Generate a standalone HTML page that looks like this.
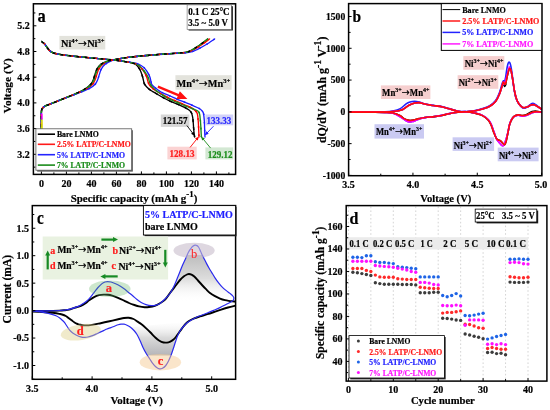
<!DOCTYPE html><html><head><meta charset="utf-8"><style>html,body{margin:0;padding:0;background:#fff;}svg{display:block;font-family:"Liberation Serif",serif;}</style></head><body>
<svg width="550" height="410" viewBox="0 0 550 410">
<defs><clipPath id="clipA"><rect x="33.4" y="3.8" width="202.2" height="170.6"/></clipPath><clipPath id="clipB"><rect x="348.6" y="3.6" width="193.2" height="171.8"/></clipPath><clipPath id="clipC"><rect x="32.3" y="205.6" width="203.3" height="173.7"/></clipPath></defs>
<rect x="0" y="0" width="550" height="410" fill="#ffffff" stroke="none" stroke-width="1" />
<g clip-path="url(#clipA)">
<path d="M41.4,135.03 C41.4,132.88 41.4,126.03 41.4,122.17 C41.4,118.32 41.27,114.14 41.4,111.9 C41.52,109.65 41.63,109.59 42.15,108.68 C42.67,107.77 43.11,107.24 44.52,106.43 C45.94,105.63 47.36,105.2 50.65,103.86 C53.94,102.53 59.71,100.28 64.28,98.4 C68.84,96.53 74.44,94.28 78.03,92.62 C81.61,90.96 83.65,89.84 85.78,88.44 C87.9,87.05 89.53,85.71 90.78,84.27 C92.03,82.82 92.59,81.38 93.28,79.77 C93.96,78.16 94.28,76.45 94.9,74.63 C95.53,72.81 96.05,70.56 97.03,68.85 C98,67.13 99,65.64 100.78,64.35 C102.55,63.07 104.94,61.99 107.65,61.14 C110.36,60.28 113.3,59.87 117.03,59.21 C120.75,58.55 124.61,57.82 130.03,57.15 C135.44,56.49 143.05,55.79 149.53,55.23 C156,54.66 163.59,54.14 168.9,53.75 C174.21,53.35 178.28,53.15 181.4,52.85 C184.53,52.55 185.78,52.5 187.65,51.95 C189.53,51.4 190.57,50.77 192.65,49.57 C194.73,48.37 197.65,46.52 200.15,44.75 C202.65,42.99 206.4,39.94 207.65,38.97" fill="none" stroke="#000000" stroke-width="1.35" stroke-linejoin="round" stroke-linecap="round" />
<path d="M41.65,41.54 C42.17,41.97 43.77,42.99 44.77,44.11 C45.77,45.24 46.5,46.95 47.65,48.29 C48.8,49.63 49.86,51.16 51.65,52.14 C53.44,53.13 54.69,53.51 58.4,54.2 C62.11,54.88 68.03,55.59 73.9,56.25 C79.78,56.92 87.82,57.63 93.65,58.18 C99.48,58.74 104.48,59.16 108.9,59.6 C113.32,60.03 116.13,60.22 120.15,60.82 C124.17,61.42 130.16,62.37 133,63.2 C135.84,64.03 136,64.62 137.2,65.8 C138.4,66.98 139.42,68.83 140.2,70.3 C140.98,71.77 141.45,73.32 141.9,74.6 C142.35,75.88 142.48,76.45 142.9,78 C143.32,79.55 143.67,82.32 144.4,83.9 C145.13,85.48 146.28,86.45 147.3,87.5 C148.32,88.55 149.28,89.35 150.5,90.2 C151.72,91.05 152.68,91.47 154.6,92.6 C156.52,93.73 159.43,95.58 162,97 C164.57,98.42 167.45,99.92 170,101.1 C172.55,102.28 174.87,103.05 177.3,104.1 C179.73,105.15 182.65,106.42 184.6,107.4 C186.55,108.38 187.85,109.07 189,110 C190.15,110.93 190.88,111.73 191.5,113 C192.12,114.27 192.42,116.1 192.7,117.6 C192.98,119.1 193.05,120.27 193.2,122 C193.35,123.73 193.43,126 193.6,128 C193.77,130 194.03,132.5 194.2,134 C194.37,135.5 194.53,136.5 194.6,137" fill="none" stroke="#000000" stroke-width="1.35" stroke-linejoin="round" stroke-linecap="round" />
<path d="M41.4,135.03 C41.4,132.88 41.4,126.03 41.4,122.17 C41.4,118.32 41.27,114.14 41.4,111.9 C41.52,109.65 41.63,109.59 42.15,108.68 C42.67,107.77 43.11,107.24 44.52,106.43 C45.94,105.63 47.36,105.2 50.65,103.86 C53.94,102.53 59.6,100.28 64.28,98.4 C68.95,96.53 74.84,94.28 78.7,92.62 C82.55,90.96 85.09,89.84 87.42,88.44 C89.74,87.05 91.36,85.71 92.65,84.27 C93.94,82.82 94.46,81.38 95.15,79.77 C95.84,78.16 96.15,76.45 96.78,74.63 C97.4,72.81 97.92,70.56 98.9,68.85 C99.88,67.13 100.97,65.64 102.65,64.35 C104.33,63.07 106.57,61.99 108.96,61.14 C111.36,60.28 113.51,59.87 117.03,59.21 C120.54,58.55 124.61,57.82 130.03,57.15 C135.44,56.49 143.03,55.79 149.53,55.23 C156.02,54.66 163.59,54.14 169.02,53.75 C174.44,53.35 178.82,53.15 182.09,52.85 C185.36,52.55 186.67,52.5 188.63,51.95 C190.59,51.4 191.68,50.77 193.86,49.57 C196.04,48.37 199.09,46.52 201.71,44.75 C204.32,42.99 208.25,39.94 209.55,38.97" fill="none" stroke="#ff0000" stroke-width="1.35" stroke-linejoin="round" stroke-linecap="round" />
<path d="M41.65,41.54 C42.17,41.97 43.77,42.99 44.77,44.11 C45.77,45.24 46.5,46.95 47.65,48.29 C48.8,49.63 49.86,51.16 51.65,52.14 C53.44,53.13 54.69,53.51 58.4,54.2 C62.11,54.88 68.03,55.59 73.9,56.25 C79.78,56.92 87.82,57.63 93.65,58.18 C99.48,58.74 104.48,59.16 108.9,59.6 C113.32,60.03 116.13,60.25 120.15,60.82 C124.17,61.38 130.03,62.3 133,63 C135.97,63.7 136.42,63.92 138,65 C139.58,66.08 141.28,68 142.5,69.5 C143.72,71 144.55,72.58 145.3,74 C146.05,75.42 146.45,76.42 147,78 C147.55,79.58 147.93,82 148.6,83.5 C149.27,85 149.93,85.88 151,87 C152.07,88.12 153.17,88.98 155,90.2 C156.83,91.42 159.5,92.9 162,94.3 C164.5,95.7 167.45,97.4 170,98.6 C172.55,99.8 174.87,100.47 177.3,101.5 C179.73,102.53 182.15,103.7 184.6,104.8 C187.05,105.9 190.17,107.07 192,108.1 C193.83,109.13 194.7,110.02 195.6,111 C196.5,111.98 196.95,112.17 197.4,114 C197.85,115.83 198.1,119.67 198.3,122 C198.5,124.33 198.5,126 198.6,128 C198.7,130 198.83,132.5 198.9,134 C198.97,135.5 198.98,136.5 199,137" fill="none" stroke="#ff0000" stroke-width="1.35" stroke-linejoin="round" stroke-linecap="round" />
<path d="M41.4,135.03 C41.4,132.88 41.4,126.03 41.4,122.17 C41.4,118.32 41.27,114.14 41.4,111.9 C41.52,109.65 41.63,109.59 42.15,108.68 C42.67,107.77 43.11,107.24 44.52,106.43 C45.94,105.63 47.36,105.2 50.65,103.86 C53.94,102.53 59.45,100.28 64.28,98.4 C69.1,96.53 75.37,94.28 79.59,92.62 C83.81,90.96 87.01,89.84 89.6,88.44 C92.2,87.05 93.81,85.71 95.15,84.27 C96.49,82.82 96.96,81.38 97.65,79.77 C98.34,78.16 98.65,76.45 99.28,74.63 C99.9,72.81 100.42,70.56 101.4,68.85 C102.38,67.13 103.6,65.64 105.15,64.35 C106.7,63.07 108.73,61.99 110.71,61.14 C112.69,60.28 113.81,59.87 117.03,59.21 C120.24,58.55 124.61,57.82 130.03,57.15 C135.44,56.49 142.98,55.79 149.53,55.23 C156.07,54.66 163.59,54.14 169.32,53.75 C175.06,53.35 180.28,53.15 183.94,52.85 C187.59,52.55 189.05,52.5 191.25,51.95 C193.44,51.4 194.66,50.77 197.09,49.57 C199.53,48.37 202.94,46.52 205.86,44.75 C208.78,42.99 213.17,39.94 214.63,38.97" fill="none" stroke="#1e1eff" stroke-width="1.35" stroke-linejoin="round" stroke-linecap="round" />
<path d="M41.65,41.54 C42.17,41.97 43.77,42.99 44.77,44.11 C45.77,45.24 46.5,46.95 47.65,48.29 C48.8,49.63 49.86,51.16 51.65,52.14 C53.44,53.13 54.69,53.51 58.4,54.2 C62.11,54.88 68.03,55.59 73.9,56.25 C79.78,56.92 87.82,57.63 93.65,58.18 C99.48,58.74 104.48,59.16 108.9,59.6 C113.32,60.03 116.13,60.3 120.15,60.82 C124.17,61.33 129.86,62.12 133,62.7 C136.14,63.28 137.2,63.5 139,64.3 C140.8,65.1 142.47,66.3 143.8,67.5 C145.13,68.7 146.17,70.32 147,71.5 C147.83,72.68 148.27,73.52 148.8,74.6 C149.33,75.68 149.72,76.4 150.2,78 C150.68,79.6 150.97,82.65 151.7,84.2 C152.43,85.75 153.55,86.33 154.6,87.3 C155.65,88.27 156.77,89.13 158,90 C159.23,90.87 160,91.5 162,92.5 C164,93.5 167.45,94.87 170,96 C172.55,97.13 174.87,98.27 177.3,99.3 C179.73,100.33 182.15,101.22 184.6,102.2 C187.05,103.18 189.55,104.15 192,105.2 C194.45,106.25 197.6,107.53 199.3,108.5 C201,109.47 201.48,110.08 202.2,111 C202.92,111.92 203.23,112.17 203.6,114 C203.97,115.83 204.23,119.67 204.4,122 C204.57,124.33 204.53,126 204.6,128 C204.67,130 204.73,132.5 204.8,134 C204.87,135.5 204.97,136.5 205,137" fill="none" stroke="#1e1eff" stroke-width="1.35" stroke-linejoin="round" stroke-linecap="round" />
<path d="M41.4,135.03 C41.4,132.88 41.4,126.03 41.4,122.17 C41.4,118.32 41.27,114.14 41.4,111.9 C41.52,109.65 41.63,109.59 42.15,108.68 C42.67,107.77 43.11,107.24 44.52,106.43 C45.94,105.63 47.36,105.2 50.65,103.86 C53.94,102.53 59.68,100.28 64.28,98.4 C68.87,96.53 74.57,94.28 78.25,92.62 C81.92,90.96 84.13,89.84 86.32,88.44 C88.51,87.05 90.14,85.71 91.4,84.27 C92.66,82.82 93.21,81.38 93.9,79.77 C94.59,78.16 94.9,76.45 95.53,74.63 C96.15,72.81 96.67,70.56 97.65,68.85 C98.63,67.13 99.66,65.64 101.4,64.35 C103.14,63.07 105.48,61.99 108.09,61.14 C110.69,60.28 113.37,59.87 117.03,59.21 C120.68,58.55 124.61,57.82 130.03,57.15 C135.44,56.49 143.05,55.79 149.53,55.23 C156,54.66 163.59,54.14 168.9,53.75 C174.21,53.35 178.28,53.15 181.4,52.85 C184.53,52.55 185.78,52.5 187.65,51.95 C189.53,51.4 190.57,50.77 192.65,49.57 C194.73,48.37 197.65,46.52 200.15,44.75 C202.65,42.99 206.4,39.94 207.65,38.97" fill="none" stroke="#1a8c1a" stroke-width="1.35" stroke-linejoin="round" stroke-linecap="round" />
<path d="M41.65,41.54 C42.17,41.97 43.77,42.99 44.77,44.11 C45.77,45.24 46.5,46.95 47.65,48.29 C48.8,49.63 49.86,51.16 51.65,52.14 C53.44,53.13 54.69,53.51 58.4,54.2 C62.11,54.88 68.03,55.59 73.9,56.25 C79.78,56.92 87.82,57.63 93.65,58.18 C99.48,58.74 104.48,59.16 108.9,59.6 C113.32,60.03 116.13,60.25 120.15,60.82 C124.17,61.38 129.94,62.27 133,63 C136.06,63.73 136.83,64.07 138.5,65.2 C140.17,66.33 141.7,68.33 143,69.8 C144.3,71.27 145.4,72.63 146.3,74 C147.2,75.37 147.78,76.42 148.4,78 C149.02,79.58 149.32,81.97 150,83.5 C150.68,85.03 151.5,86.03 152.5,87.2 C153.5,88.37 154.42,89.23 156,90.5 C157.58,91.77 159.67,93.33 162,94.8 C164.33,96.27 166.23,97.52 170,99.3 C173.77,101.08 180.93,103.97 184.6,105.5 C188.27,107.03 189.8,107.58 192,108.5 C194.2,109.42 196.53,110.08 197.8,111 C199.07,111.92 199.15,112.17 199.6,114 C200.05,115.83 200.28,119.67 200.5,122 C200.72,124.33 200.78,126 200.9,128 C201.02,130 201.12,132.5 201.2,134 C201.28,135.5 201.37,136.5 201.4,137" fill="none" stroke="#1a8c1a" stroke-width="1.35" stroke-linejoin="round" stroke-linecap="round" />
<path d="M41.4,135.03 C41.4,132.88 41.4,126.03 41.4,122.17 C41.4,118.32 41.27,114.14 41.4,111.9 C41.52,109.65 41.63,109.59 42.15,108.68 C42.67,107.77 43.11,107.24 44.52,106.43 C45.94,105.63 47.36,105.2 50.65,103.86 C53.94,102.53 59.71,100.28 64.28,98.4 C68.84,96.53 74.44,94.28 78.03,92.62 C81.61,90.96 83.65,89.84 85.78,88.44 C87.9,87.05 89.53,85.71 90.78,84.27 C92.03,82.82 92.59,81.38 93.28,79.77 C93.96,78.16 94.28,76.45 94.9,74.63 C95.53,72.81 96.05,70.56 97.03,68.85 C98,67.13 99,65.64 100.78,64.35 C102.55,63.07 104.94,61.99 107.65,61.14 C110.36,60.28 113.3,59.87 117.03,59.21 C120.75,58.55 124.61,57.82 130.03,57.15 C135.44,56.49 143.05,55.79 149.53,55.23 C156,54.66 163.59,54.14 168.9,53.75 C174.21,53.35 178.28,53.15 181.4,52.85 C184.53,52.55 185.78,52.5 187.65,51.95 C189.53,51.4 190.57,50.77 192.65,49.57 C194.73,48.37 197.65,46.52 200.15,44.75 C202.65,42.99 206.4,39.94 207.65,38.97" fill="none" stroke="#000000" stroke-width="1.5" stroke-dasharray="3.0 5.0" stroke-dashoffset="0" stroke-linecap="butt"/>
<path d="M41.65,41.54 C42.17,41.97 43.77,42.99 44.77,44.11 C45.77,45.24 46.5,46.95 47.65,48.29 C48.8,49.63 49.86,51.16 51.65,52.14 C53.44,53.13 54.69,53.51 58.4,54.2 C62.11,54.88 68.03,55.59 73.9,56.25 C79.78,56.92 87.82,57.63 93.65,58.18 C99.48,58.74 104.48,59.16 108.9,59.6 C113.32,60.03 116.13,60.22 120.15,60.82 C124.17,61.42 130.16,62.37 133,63.2 C135.84,64.03 136,64.62 137.2,65.8 C138.4,66.98 139.42,68.83 140.2,70.3 C140.98,71.77 141.45,73.32 141.9,74.6 C142.35,75.88 142.48,76.45 142.9,78 C143.32,79.55 143.67,82.32 144.4,83.9 C145.13,85.48 146.28,86.45 147.3,87.5 C148.32,88.55 149.28,89.35 150.5,90.2 C151.72,91.05 152.68,91.47 154.6,92.6 C156.52,93.73 159.43,95.58 162,97 C164.57,98.42 167.45,99.92 170,101.1 C172.55,102.28 174.87,103.05 177.3,104.1 C179.73,105.15 182.65,106.42 184.6,107.4 C186.55,108.38 187.85,109.07 189,110 C190.15,110.93 190.88,111.73 191.5,113 C192.12,114.27 192.42,116.1 192.7,117.6 C192.98,119.1 193.05,120.27 193.2,122 C193.35,123.73 193.43,126 193.6,128 C193.77,130 194.03,132.5 194.2,134 C194.37,135.5 194.53,136.5 194.6,137" fill="none" stroke="#000000" stroke-width="1.5" stroke-dasharray="3.0 5.0" stroke-dashoffset="0" stroke-linecap="butt"/>
<path d="M41.4,135.03 C41.4,132.88 41.4,126.03 41.4,122.17 C41.4,118.32 41.27,114.14 41.4,111.9 C41.52,109.65 41.63,109.59 42.15,108.68 C42.67,107.77 43.11,107.24 44.52,106.43 C45.94,105.63 47.36,105.2 50.65,103.86 C53.94,102.53 59.6,100.28 64.28,98.4 C68.95,96.53 74.84,94.28 78.7,92.62 C82.55,90.96 85.09,89.84 87.42,88.44 C89.74,87.05 91.36,85.71 92.65,84.27 C93.94,82.82 94.46,81.38 95.15,79.77 C95.84,78.16 96.15,76.45 96.78,74.63 C97.4,72.81 97.92,70.56 98.9,68.85 C99.88,67.13 100.97,65.64 102.65,64.35 C104.33,63.07 106.57,61.99 108.96,61.14 C111.36,60.28 113.51,59.87 117.03,59.21 C120.54,58.55 124.61,57.82 130.03,57.15 C135.44,56.49 143.03,55.79 149.53,55.23 C156.02,54.66 163.59,54.14 169.02,53.75 C174.44,53.35 178.82,53.15 182.09,52.85 C185.36,52.55 186.67,52.5 188.63,51.95 C190.59,51.4 191.68,50.77 193.86,49.57 C196.04,48.37 199.09,46.52 201.71,44.75 C204.32,42.99 208.25,39.94 209.55,38.97" fill="none" stroke="#ff0000" stroke-width="1.5" stroke-dasharray="1.6 6.4" stroke-dashoffset="-3.0" stroke-linecap="butt"/>
<path d="M41.65,41.54 C42.17,41.97 43.77,42.99 44.77,44.11 C45.77,45.24 46.5,46.95 47.65,48.29 C48.8,49.63 49.86,51.16 51.65,52.14 C53.44,53.13 54.69,53.51 58.4,54.2 C62.11,54.88 68.03,55.59 73.9,56.25 C79.78,56.92 87.82,57.63 93.65,58.18 C99.48,58.74 104.48,59.16 108.9,59.6 C113.32,60.03 116.13,60.25 120.15,60.82 C124.17,61.38 130.03,62.3 133,63 C135.97,63.7 136.42,63.92 138,65 C139.58,66.08 141.28,68 142.5,69.5 C143.72,71 144.55,72.58 145.3,74 C146.05,75.42 146.45,76.42 147,78 C147.55,79.58 147.93,82 148.6,83.5 C149.27,85 149.93,85.88 151,87 C152.07,88.12 153.17,88.98 155,90.2 C156.83,91.42 159.5,92.9 162,94.3 C164.5,95.7 167.45,97.4 170,98.6 C172.55,99.8 174.87,100.47 177.3,101.5 C179.73,102.53 182.15,103.7 184.6,104.8 C187.05,105.9 190.17,107.07 192,108.1 C193.83,109.13 194.7,110.02 195.6,111 C196.5,111.98 196.95,112.17 197.4,114 C197.85,115.83 198.1,119.67 198.3,122 C198.5,124.33 198.5,126 198.6,128 C198.7,130 198.83,132.5 198.9,134 C198.97,135.5 198.98,136.5 199,137" fill="none" stroke="#ff0000" stroke-width="1.5" stroke-dasharray="1.6 6.4" stroke-dashoffset="-3.0" stroke-linecap="butt"/>
<path d="M41.4,135.03 C41.4,132.88 41.4,126.03 41.4,122.17 C41.4,118.32 41.27,114.14 41.4,111.9 C41.52,109.65 41.63,109.59 42.15,108.68 C42.67,107.77 43.11,107.24 44.52,106.43 C45.94,105.63 47.36,105.2 50.65,103.86 C53.94,102.53 59.45,100.28 64.28,98.4 C69.1,96.53 75.37,94.28 79.59,92.62 C83.81,90.96 87.01,89.84 89.6,88.44 C92.2,87.05 93.81,85.71 95.15,84.27 C96.49,82.82 96.96,81.38 97.65,79.77 C98.34,78.16 98.65,76.45 99.28,74.63 C99.9,72.81 100.42,70.56 101.4,68.85 C102.38,67.13 103.6,65.64 105.15,64.35 C106.7,63.07 108.73,61.99 110.71,61.14 C112.69,60.28 113.81,59.87 117.03,59.21 C120.24,58.55 124.61,57.82 130.03,57.15 C135.44,56.49 142.98,55.79 149.53,55.23 C156.07,54.66 163.59,54.14 169.32,53.75 C175.06,53.35 180.28,53.15 183.94,52.85 C187.59,52.55 189.05,52.5 191.25,51.95 C193.44,51.4 194.66,50.77 197.09,49.57 C199.53,48.37 202.94,46.52 205.86,44.75 C208.78,42.99 213.17,39.94 214.63,38.97" fill="none" stroke="#1e1eff" stroke-width="1.5" stroke-dasharray="1.6 6.4" stroke-dashoffset="-4.6" stroke-linecap="butt"/>
<path d="M41.65,41.54 C42.17,41.97 43.77,42.99 44.77,44.11 C45.77,45.24 46.5,46.95 47.65,48.29 C48.8,49.63 49.86,51.16 51.65,52.14 C53.44,53.13 54.69,53.51 58.4,54.2 C62.11,54.88 68.03,55.59 73.9,56.25 C79.78,56.92 87.82,57.63 93.65,58.18 C99.48,58.74 104.48,59.16 108.9,59.6 C113.32,60.03 116.13,60.3 120.15,60.82 C124.17,61.33 129.86,62.12 133,62.7 C136.14,63.28 137.2,63.5 139,64.3 C140.8,65.1 142.47,66.3 143.8,67.5 C145.13,68.7 146.17,70.32 147,71.5 C147.83,72.68 148.27,73.52 148.8,74.6 C149.33,75.68 149.72,76.4 150.2,78 C150.68,79.6 150.97,82.65 151.7,84.2 C152.43,85.75 153.55,86.33 154.6,87.3 C155.65,88.27 156.77,89.13 158,90 C159.23,90.87 160,91.5 162,92.5 C164,93.5 167.45,94.87 170,96 C172.55,97.13 174.87,98.27 177.3,99.3 C179.73,100.33 182.15,101.22 184.6,102.2 C187.05,103.18 189.55,104.15 192,105.2 C194.45,106.25 197.6,107.53 199.3,108.5 C201,109.47 201.48,110.08 202.2,111 C202.92,111.92 203.23,112.17 203.6,114 C203.97,115.83 204.23,119.67 204.4,122 C204.57,124.33 204.53,126 204.6,128 C204.67,130 204.73,132.5 204.8,134 C204.87,135.5 204.97,136.5 205,137" fill="none" stroke="#1e1eff" stroke-width="1.5" stroke-dasharray="1.6 6.4" stroke-dashoffset="-4.6" stroke-linecap="butt"/>
<path d="M41.4,135.03 C41.4,132.88 41.4,126.03 41.4,122.17 C41.4,118.32 41.27,114.14 41.4,111.9 C41.52,109.65 41.63,109.59 42.15,108.68 C42.67,107.77 43.11,107.24 44.52,106.43 C45.94,105.63 47.36,105.2 50.65,103.86 C53.94,102.53 59.68,100.28 64.28,98.4 C68.87,96.53 74.57,94.28 78.25,92.62 C81.92,90.96 84.13,89.84 86.32,88.44 C88.51,87.05 90.14,85.71 91.4,84.27 C92.66,82.82 93.21,81.38 93.9,79.77 C94.59,78.16 94.9,76.45 95.53,74.63 C96.15,72.81 96.67,70.56 97.65,68.85 C98.63,67.13 99.66,65.64 101.4,64.35 C103.14,63.07 105.48,61.99 108.09,61.14 C110.69,60.28 113.37,59.87 117.03,59.21 C120.68,58.55 124.61,57.82 130.03,57.15 C135.44,56.49 143.05,55.79 149.53,55.23 C156,54.66 163.59,54.14 168.9,53.75 C174.21,53.35 178.28,53.15 181.4,52.85 C184.53,52.55 185.78,52.5 187.65,51.95 C189.53,51.4 190.57,50.77 192.65,49.57 C194.73,48.37 197.65,46.52 200.15,44.75 C202.65,42.99 206.4,39.94 207.65,38.97" fill="none" stroke="#1a8c1a" stroke-width="1.5" stroke-dasharray="1.8 6.2" stroke-dashoffset="-6.2" stroke-linecap="butt"/>
<path d="M41.65,41.54 C42.17,41.97 43.77,42.99 44.77,44.11 C45.77,45.24 46.5,46.95 47.65,48.29 C48.8,49.63 49.86,51.16 51.65,52.14 C53.44,53.13 54.69,53.51 58.4,54.2 C62.11,54.88 68.03,55.59 73.9,56.25 C79.78,56.92 87.82,57.63 93.65,58.18 C99.48,58.74 104.48,59.16 108.9,59.6 C113.32,60.03 116.13,60.25 120.15,60.82 C124.17,61.38 129.94,62.27 133,63 C136.06,63.73 136.83,64.07 138.5,65.2 C140.17,66.33 141.7,68.33 143,69.8 C144.3,71.27 145.4,72.63 146.3,74 C147.2,75.37 147.78,76.42 148.4,78 C149.02,79.58 149.32,81.97 150,83.5 C150.68,85.03 151.5,86.03 152.5,87.2 C153.5,88.37 154.42,89.23 156,90.5 C157.58,91.77 159.67,93.33 162,94.8 C164.33,96.27 166.23,97.52 170,99.3 C173.77,101.08 180.93,103.97 184.6,105.5 C188.27,107.03 189.8,107.58 192,108.5 C194.2,109.42 196.53,110.08 197.8,111 C199.07,111.92 199.15,112.17 199.6,114 C200.05,115.83 200.28,119.67 200.5,122 C200.72,124.33 200.78,126 200.9,128 C201.02,130 201.12,132.5 201.2,134 C201.28,135.5 201.37,136.5 201.4,137" fill="none" stroke="#1a8c1a" stroke-width="1.5" stroke-dasharray="1.8 6.2" stroke-dashoffset="-6.2" stroke-linecap="butt"/>
</g>
<line x1="41.9" y1="129" x2="41.9" y2="119.5" stroke="#f4f400" stroke-width="1.5" />
<line x1="41.9" y1="119.5" x2="41.9" y2="113.5" stroke="#ff00ff" stroke-width="1.5" />
<rect x="33.4" y="3.8" width="202.2" height="170.6" fill="none" stroke="#000" stroke-width="1.5" />
<line x1="33.4" y1="154.3" x2="36.4" y2="154.3" stroke="#000" stroke-width="1" />
<line x1="33.4" y1="128.6" x2="36.4" y2="128.6" stroke="#000" stroke-width="1" />
<line x1="33.4" y1="102.9" x2="36.4" y2="102.9" stroke="#000" stroke-width="1" />
<line x1="33.4" y1="77.2" x2="36.4" y2="77.2" stroke="#000" stroke-width="1" />
<line x1="33.4" y1="51.5" x2="36.4" y2="51.5" stroke="#000" stroke-width="1" />
<line x1="33.4" y1="25.8" x2="36.4" y2="25.8" stroke="#000" stroke-width="1" />
<line x1="33.4" y1="167.15" x2="35.4" y2="167.15" stroke="#000" stroke-width="1" />
<line x1="33.4" y1="141.45" x2="35.4" y2="141.45" stroke="#000" stroke-width="1" />
<line x1="33.4" y1="115.75" x2="35.4" y2="115.75" stroke="#000" stroke-width="1" />
<line x1="33.4" y1="90.05" x2="35.4" y2="90.05" stroke="#000" stroke-width="1" />
<line x1="33.4" y1="64.35" x2="35.4" y2="64.35" stroke="#000" stroke-width="1" />
<line x1="33.4" y1="38.65" x2="35.4" y2="38.65" stroke="#000" stroke-width="1" />
<line x1="33.4" y1="12.95" x2="35.4" y2="12.95" stroke="#000" stroke-width="1" />
<line x1="41.4" y1="174.4" x2="41.4" y2="171.4" stroke="#000" stroke-width="1" />
<line x1="66.4" y1="174.4" x2="66.4" y2="171.4" stroke="#000" stroke-width="1" />
<line x1="91.4" y1="174.4" x2="91.4" y2="171.4" stroke="#000" stroke-width="1" />
<line x1="116.4" y1="174.4" x2="116.4" y2="171.4" stroke="#000" stroke-width="1" />
<line x1="141.4" y1="174.4" x2="141.4" y2="171.4" stroke="#000" stroke-width="1" />
<line x1="166.4" y1="174.4" x2="166.4" y2="171.4" stroke="#000" stroke-width="1" />
<line x1="191.4" y1="174.4" x2="191.4" y2="171.4" stroke="#000" stroke-width="1" />
<line x1="216.4" y1="174.4" x2="216.4" y2="171.4" stroke="#000" stroke-width="1" />
<line x1="53.9" y1="174.4" x2="53.9" y2="172.4" stroke="#000" stroke-width="1" />
<line x1="78.9" y1="174.4" x2="78.9" y2="172.4" stroke="#000" stroke-width="1" />
<line x1="103.9" y1="174.4" x2="103.9" y2="172.4" stroke="#000" stroke-width="1" />
<line x1="128.9" y1="174.4" x2="128.9" y2="172.4" stroke="#000" stroke-width="1" />
<line x1="153.9" y1="174.4" x2="153.9" y2="172.4" stroke="#000" stroke-width="1" />
<line x1="178.9" y1="174.4" x2="178.9" y2="172.4" stroke="#000" stroke-width="1" />
<line x1="203.9" y1="174.4" x2="203.9" y2="172.4" stroke="#000" stroke-width="1" />
<line x1="228.9" y1="174.4" x2="228.9" y2="172.4" stroke="#000" stroke-width="1" />
<text x="29.8" y="157.7" font-size="10" text-anchor="end" fill="#000" font-weight="bold"  stroke="#000" stroke-width="0.2">3.2</text>
<text x="29.8" y="132" font-size="10" text-anchor="end" fill="#000" font-weight="bold"  stroke="#000" stroke-width="0.2">3.6</text>
<text x="29.8" y="106.3" font-size="10" text-anchor="end" fill="#000" font-weight="bold"  stroke="#000" stroke-width="0.2">4.0</text>
<text x="29.8" y="80.6" font-size="10" text-anchor="end" fill="#000" font-weight="bold"  stroke="#000" stroke-width="0.2">4.4</text>
<text x="29.8" y="54.9" font-size="10" text-anchor="end" fill="#000" font-weight="bold"  stroke="#000" stroke-width="0.2">4.8</text>
<text x="29.8" y="29.2" font-size="10" text-anchor="end" fill="#000" font-weight="bold"  stroke="#000" stroke-width="0.2">5.2</text>
<text x="41.4" y="186.6" font-size="10" text-anchor="middle" fill="#000" font-weight="bold"  stroke="#000" stroke-width="0.2">0</text>
<text x="66.4" y="186.6" font-size="10" text-anchor="middle" fill="#000" font-weight="bold"  stroke="#000" stroke-width="0.2">20</text>
<text x="91.4" y="186.6" font-size="10" text-anchor="middle" fill="#000" font-weight="bold"  stroke="#000" stroke-width="0.2">40</text>
<text x="116.4" y="186.6" font-size="10" text-anchor="middle" fill="#000" font-weight="bold"  stroke="#000" stroke-width="0.2">60</text>
<text x="141.4" y="186.6" font-size="10" text-anchor="middle" fill="#000" font-weight="bold"  stroke="#000" stroke-width="0.2">80</text>
<text x="166.4" y="186.6" font-size="10" text-anchor="middle" fill="#000" font-weight="bold"  stroke="#000" stroke-width="0.2">100</text>
<text x="191.4" y="186.6" font-size="10" text-anchor="middle" fill="#000" font-weight="bold"  stroke="#000" stroke-width="0.2">120</text>
<text x="216.4" y="186.6" font-size="10" text-anchor="middle" fill="#000" font-weight="bold"  stroke="#000" stroke-width="0.2">140</text>
<text x="134" y="202.2" font-size="11.2" text-anchor="middle" fill="#000" font-weight="bold"  textLength="126.7" lengthAdjust="spacingAndGlyphs" stroke="#000" stroke-width="0.2">Specific capacity (mAh g<tspan font-size="82%" dy="-5">-1</tspan><tspan dy="5">)</tspan></text>
<text transform="translate(11.0,85.7) rotate(-90)" font-size="11.4" text-anchor="middle" font-weight="bold" stroke="#000" stroke-width="0.2">Voltage (V)</text>
<text x="37.6" y="22" font-size="19" text-anchor="start" fill="#000" font-weight="bold"  textLength="8.2" lengthAdjust="spacingAndGlyphs" stroke="#000" stroke-width="0.2">a</text>
<rect x="59.4" y="35.9" width="45.9" height="13.6" fill="#e3e3dc" stroke="none" stroke-width="1" />
<text x="61" y="47" font-size="10.2" text-anchor="start" fill="#000" font-weight="bold"  textLength="43.5" lengthAdjust="spacingAndGlyphs" stroke="#000" stroke-width="0.2">Ni<tspan font-size="6.6" dy="-4.0">4+</tspan><tspan dy="4.0" font-family="DejaVu Sans, sans-serif" font-weight="normal" font-size="10.5">&#8594;</tspan><tspan>Ni</tspan><tspan font-size="6.6" dy="-4.0">3+</tspan></text>
<rect x="175.4" y="75.2" width="56.2" height="14.5" fill="#e3e3dc" stroke="none" stroke-width="1" />
<text x="176.5" y="86.5" font-size="10.2" text-anchor="start" fill="#000" font-weight="bold"  textLength="53.8" lengthAdjust="spacingAndGlyphs" stroke="#000" stroke-width="0.2">Mn<tspan font-size="6.6" dy="-4.0">4+</tspan><tspan dy="4.0" font-family="DejaVu Sans, sans-serif" font-weight="normal" font-size="10.5">&#8594;</tspan><tspan>Mn</tspan><tspan font-size="6.6" dy="-4.0">3+</tspan></text>
<rect x="188.6" y="6.2" width="44.3" height="24.3" fill="#202020" stroke="none" stroke-width="1" />
<rect x="187.1" y="4.9" width="44.2" height="24.6" fill="#ffffff" stroke="#666" stroke-width="0.6" />
<text x="188.2" y="14.8" font-size="9.6" text-anchor="start" fill="#000" font-weight="bold"  textLength="41.4" lengthAdjust="spacingAndGlyphs" stroke="#000" stroke-width="0.2">0.1 C 25&#176;C</text>
<text x="188.2" y="26.2" font-size="9.6" text-anchor="start" fill="#000" font-weight="bold"  textLength="39.8" lengthAdjust="spacingAndGlyphs" stroke="#000" stroke-width="0.2">3.5 ~ 5.0 V</text>
<line x1="157.9" y1="86.6" x2="179.5" y2="95.6" stroke="#ff1010" stroke-width="2.3"/>
<polygon points="187.4,99 176.53,99.04 179.83,91.21" fill="#ff1010"/>
<rect x="160.8" y="114.5" width="28.6" height="12.4" fill="#d6d6d6" stroke="none" stroke-width="1" />
<text x="162.7" y="123.9" font-size="10.2" text-anchor="start" fill="#000" font-weight="bold"  textLength="24.8" lengthAdjust="spacingAndGlyphs" stroke="#000" stroke-width="0.2">121.57</text>
<rect x="205.4" y="114.5" width="27.8" height="10.8" fill="#d2d2f8" stroke="none" stroke-width="1" />
<text x="206.4" y="123.6" font-size="10.2" text-anchor="start" fill="#2626ff" font-weight="bold"  textLength="24.9" lengthAdjust="spacingAndGlyphs" stroke="#2626ff" stroke-width="0.2">133.33</text>
<rect x="167.4" y="146.7" width="29.3" height="12.7" fill="#fbd3d3" stroke="none" stroke-width="1" />
<text x="169.5" y="157" font-size="10.2" text-anchor="start" fill="#ff1a1a" font-weight="bold"  textLength="25" lengthAdjust="spacingAndGlyphs" stroke="#ff1a1a" stroke-width="0.2">128.13</text>
<rect x="205.4" y="147.4" width="27.8" height="12" fill="#d3e8d3" stroke="none" stroke-width="1" />
<text x="207.8" y="157.6" font-size="10.2" text-anchor="start" fill="#1a8c1a" font-weight="bold"  textLength="24.8" lengthAdjust="spacingAndGlyphs" stroke="#1a8c1a" stroke-width="0.2">129.12</text>
<line x1="186.9" y1="125.5" x2="193.12" y2="133.76" stroke="#000" stroke-width="0.9" />
<polygon points="194.8,136 191.04,133.83 193.75,131.78" fill="#000"/>
<line x1="213.5" y1="126.2" x2="206.64" y2="133.38" stroke="#1e1eff" stroke-width="0.9" />
<polygon points="204.7,135.4 206.24,131.33 208.69,133.68" fill="#1e1eff"/>
<line x1="190.1" y1="147.4" x2="197.15" y2="138.59" stroke="#ff0000" stroke-width="0.9" />
<polygon points="198.9,136.4 197.73,140.59 195.07,138.46" fill="#ff0000"/>
<line x1="210.6" y1="148.1" x2="202.78" y2="138.56" stroke="#1a8c1a" stroke-width="0.9" />
<polygon points="201,136.4 204.85,138.41 202.22,140.57" fill="#1a8c1a"/>
<rect x="37.2" y="130.2" width="95.6" height="41.4" fill="#505050" stroke="none" stroke-width="1" />
<rect x="35.9" y="128.8" width="95.8" height="41.4" fill="#ffffff" stroke="#555" stroke-width="0.8" />
<line x1="37.8" y1="134.2" x2="55" y2="134.2" stroke="#000" stroke-width="1.6" />
<text x="56.9" y="137" font-size="7.75" text-anchor="start" fill="#000000" font-weight="bold"  stroke="#000000" stroke-width="0.2">Bare LNMO</text>
<line x1="37.8" y1="144.3" x2="55" y2="144.3" stroke="#ff1a1a" stroke-width="1.6" />
<text x="56.9" y="147.1" font-size="7.75" text-anchor="start" fill="#ff1a1a" font-weight="bold"  stroke="#ff1a1a" stroke-width="0.2">2.5% LATP/C-LNMO</text>
<line x1="37.8" y1="154.7" x2="55" y2="154.7" stroke="#2424ff" stroke-width="1.6" />
<text x="56.9" y="157.5" font-size="7.75" text-anchor="start" fill="#2424ff" font-weight="bold"  stroke="#2424ff" stroke-width="0.2">5% LATP/C-LNMO</text>
<line x1="37.8" y1="165.1" x2="55" y2="165.1" stroke="#1a8c1a" stroke-width="1.6" />
<text x="56.9" y="167.9" font-size="7.75" text-anchor="start" fill="#1a8c1a" font-weight="bold"  stroke="#1a8c1a" stroke-width="0.2">7% LATP/C-LNMO</text>
<g clip-path="url(#clipB)">
<path d="M348.6,112.1 C352.17,112.1 363.93,112.12 370,112.1 C376.07,112.08 380.83,112.13 385,112 C389.17,111.87 392.45,111.58 395,111.3 C397.55,111.02 398.93,110.63 400.3,110.3 C401.67,109.97 401.75,110.15 403.2,109.3 C404.65,108.45 407.07,106.25 409,105.2 C410.93,104.15 413.13,103.43 414.8,103 C416.47,102.57 417.78,102.55 419,102.6 C420.22,102.65 420.77,102.98 422.1,103.3 C423.43,103.62 425.52,104.18 427,104.5 C428.48,104.82 429.5,104.97 431,105.2 C432.5,105.43 434.2,105.63 436,105.9 C437.8,106.17 439.62,106.32 441.8,106.8 C443.98,107.28 446.43,108.07 449.1,108.8 C451.77,109.53 454.9,110.72 457.8,111.2 C460.7,111.68 463.58,111.77 466.5,111.7 C469.42,111.63 472.63,111.25 475.3,110.8 C477.97,110.35 480.08,109.77 482.5,109 C484.92,108.23 487.62,107.45 489.8,106.2 C491.98,104.95 493.98,103.53 495.6,101.5 C497.22,99.47 498.43,96.5 499.5,94 C500.57,91.5 501.35,88.33 502,86.5 C502.65,84.67 502.98,83.03 503.4,83 C503.82,82.97 504.1,86.05 504.5,86.3 C504.9,86.55 505.58,85.05 505.8,84.5 C506.02,83.95 505.52,84.58 505.8,83 C506.08,81.42 506.9,77.4 507.5,75 C508.1,72.6 508.82,69.35 509.4,68.6 C509.98,67.85 510.43,68.6 511,70.5 C511.57,72.4 512.22,76.58 512.8,80 C513.38,83.42 513.88,87.83 514.5,91 C515.12,94.17 515.75,96.83 516.5,99 C517.25,101.17 517.92,102.57 519,104 C520.08,105.43 521.58,107.12 523,107.6 C524.42,108.08 526.17,107.33 527.5,106.9 C528.83,106.47 529.92,105.37 531,105 C532.08,104.63 533,104.48 534,104.7 C535,104.92 535.7,105.55 537,106.3 C538.3,107.05 541,108.72 541.8,109.2" fill="none" stroke="#000" stroke-width="1.6" stroke-linejoin="round" stroke-linecap="round" />
<path d="M348.6,112.3 C352.17,112.3 363.93,112.28 370,112.3 C376.07,112.32 381.17,112.28 385,112.4 C388.83,112.52 390.45,112.43 393,113 C395.55,113.57 398.47,114.87 400.3,115.8 C402.13,116.73 402.55,117.83 404,118.6 C405.45,119.37 407.67,120.12 409,120.4 C410.33,120.68 411.03,120.4 412,120.3 C412.97,120.2 413.6,120.08 414.8,119.8 C416,119.52 417.5,118.98 419.2,118.6 C420.9,118.22 422.45,117.83 425,117.5 C427.55,117.17 431.7,116.93 434.5,116.6 C437.3,116.27 439.37,115.98 441.8,115.5 C444.23,115.02 446.43,114.23 449.1,113.7 C451.77,113.17 454.9,112.62 457.8,112.3 C460.7,111.98 463.58,111.63 466.5,111.8 C469.42,111.97 472.63,112.67 475.3,113.3 C477.97,113.93 480.32,114.45 482.5,115.6 C484.68,116.75 486.93,118.55 488.4,120.2 C489.87,121.85 490.37,123.37 491.3,125.5 C492.23,127.63 493.13,130.82 494,133 C494.87,135.18 495.78,137.43 496.5,138.6 C497.22,139.77 497.67,139.67 498.3,140 C498.93,140.33 499.63,140.13 500.3,140.6 C500.97,141.07 501.58,142.1 502.3,142.8 C503.02,143.5 503.95,145.1 504.6,144.8 C505.25,144.5 505.65,142.97 506.2,141 C506.75,139.03 507.28,135.9 507.9,133 C508.52,130.1 509.08,126.13 509.9,123.6 C510.72,121.07 511.93,119.1 512.8,117.8 C513.67,116.5 514.15,116.28 515.1,115.8 C516.05,115.32 517.22,114.93 518.5,114.9 C519.78,114.87 521.37,115.72 522.8,115.6 C524.23,115.48 525.53,114.87 527.1,114.2 C528.67,113.53 530.63,112.1 532.2,111.6 C533.77,111.1 534.9,111.1 536.5,111.2 C538.1,111.3 540.92,112.03 541.8,112.2" fill="none" stroke="#000" stroke-width="1.6" stroke-linejoin="round" stroke-linecap="round" />
<path d="M348.6,112 C352.17,112 363.93,112.02 370,112 C376.07,111.98 381.17,112.07 385,111.9 C388.83,111.73 390.45,111.55 393,111 C395.55,110.45 398.12,109.78 400.3,108.6 C402.48,107.42 404.48,105 406.1,103.9 C407.72,102.8 408.6,102.43 410,102 C411.4,101.57 412.97,101.3 414.5,101.3 C416.03,101.3 417.45,101.55 419.2,102 C420.95,102.45 423.03,103.5 425,104 C426.97,104.5 429.17,104.7 431,105 C432.83,105.3 434.2,105.53 436,105.8 C437.8,106.07 439.62,106.13 441.8,106.6 C443.98,107.07 446.43,107.85 449.1,108.6 C451.77,109.35 454.9,110.6 457.8,111.1 C460.7,111.6 463.58,111.68 466.5,111.6 C469.42,111.52 472.63,111.1 475.3,110.6 C477.97,110.1 480.08,109.43 482.5,108.6 C484.92,107.77 487.62,106.95 489.8,105.6 C491.98,104.25 493.98,102.68 495.6,100.5 C497.22,98.32 498.43,95.25 499.5,92.5 C500.57,89.75 501.37,85.95 502,84 C502.63,82.05 502.9,81.1 503.3,80.8 C503.7,80.5 504.02,82.75 504.4,82.2 C504.78,81.65 505.15,79.95 505.6,77.5 C506.05,75.05 506.58,70.03 507.1,67.5 C507.62,64.97 508.17,62.88 508.7,62.3 C509.23,61.72 509.75,62.22 510.3,64 C510.85,65.78 511.45,69.25 512,73 C512.55,76.75 513.02,82.58 513.6,86.5 C514.18,90.42 514.77,93.83 515.5,96.5 C516.23,99.17 516.92,100.7 518,102.5 C519.08,104.3 520.92,106.33 522,107.3 C523.08,108.27 523.67,108.32 524.5,108.3 C525.33,108.28 526,107.85 527,107.2 C528,106.55 529.5,105.03 530.5,104.4 C531.5,103.77 532.08,103.33 533,103.4 C533.92,103.47 535,104.15 536,104.8 C537,105.45 538.03,106.55 539,107.3 C539.97,108.05 541.33,108.97 541.8,109.3" fill="none" stroke="#2020ff" stroke-width="1.6" stroke-linejoin="round" stroke-linecap="round" />
<path d="M348.6,112.3 C352.17,112.3 363.93,112.28 370,112.3 C376.07,112.32 381.17,112.25 385,112.4 C388.83,112.55 390.45,112.47 393,113.2 C395.55,113.93 398.12,115.52 400.3,116.8 C402.48,118.08 404.65,120.05 406.1,120.9 C407.55,121.75 408.02,121.78 409,121.9 C409.98,122.02 411.03,121.77 412,121.6 C412.97,121.43 413.6,121.33 414.8,120.9 C416,120.47 417.5,119.55 419.2,119 C420.9,118.45 422.45,118.02 425,117.6 C427.55,117.18 431.7,116.87 434.5,116.5 C437.3,116.13 439.37,115.88 441.8,115.4 C444.23,114.92 446.43,114.13 449.1,113.6 C451.77,113.07 454.9,112.52 457.8,112.2 C460.7,111.88 463.58,111.53 466.5,111.7 C469.42,111.87 472.63,112.58 475.3,113.2 C477.97,113.82 480.32,114.32 482.5,115.4 C484.68,116.48 486.93,118.18 488.4,119.7 C489.87,121.22 490.37,122.45 491.3,124.5 C492.23,126.55 493.13,129.58 494,132 C494.87,134.42 495.8,137.45 496.5,139 C497.2,140.55 497.62,140.55 498.2,141.3 C498.78,142.05 499.37,142.78 500,143.5 C500.63,144.22 501.4,145.32 502,145.6 C502.6,145.88 503.02,145.97 503.6,145.2 C504.18,144.43 504.8,143.03 505.5,141 C506.2,138.97 507.08,135.93 507.8,133 C508.52,130.07 508.98,125.93 509.8,123.4 C510.62,120.87 511.82,119.05 512.7,117.8 C513.58,116.55 514.13,116.35 515.1,115.9 C516.07,115.45 517.22,115.03 518.5,115.1 C519.78,115.17 521.37,116.28 522.8,116.3 C524.23,116.32 525.53,115.8 527.1,115.2 C528.67,114.6 530.63,113.25 532.2,112.7 C533.77,112.15 534.9,111.95 536.5,111.9 C538.1,111.85 540.92,112.32 541.8,112.4" fill="none" stroke="#2020ff" stroke-width="1.6" stroke-linejoin="round" stroke-linecap="round" />
<path d="M348.6,112.1 C352.17,112.1 363.93,112.12 370,112.1 C376.07,112.08 380.83,112.13 385,112 C389.17,111.87 392.45,111.58 395,111.3 C397.55,111.02 398.93,110.63 400.3,110.3 C401.67,109.97 401.75,110.15 403.2,109.3 C404.65,108.45 407.07,106.25 409,105.2 C410.93,104.15 413.13,103.43 414.8,103 C416.47,102.57 417.78,102.55 419,102.6 C420.22,102.65 420.77,102.98 422.1,103.3 C423.43,103.62 425.52,104.18 427,104.5 C428.48,104.82 429.5,104.97 431,105.2 C432.5,105.43 434.2,105.63 436,105.9 C437.8,106.17 439.62,106.32 441.8,106.8 C443.98,107.28 446.43,108.07 449.1,108.8 C451.77,109.53 454.9,110.72 457.8,111.2 C460.7,111.68 463.58,111.77 466.5,111.7 C469.42,111.63 472.63,111.25 475.3,110.8 C477.97,110.35 480.08,109.77 482.5,109 C484.92,108.23 487.62,107.45 489.8,106.2 C491.98,104.95 493.98,103.53 495.6,101.5 C497.22,99.47 498.43,96.58 499.5,94 C500.57,91.42 501.35,88 502,86 C502.65,84 502.97,82.3 503.4,82 C503.83,81.7 503.92,85.62 504.6,84.2 C505.28,82.78 506.73,76.37 507.5,73.5 C508.27,70.63 508.88,67.82 509.2,67 C509.52,66.18 509.1,68.02 509.4,68.6 C509.7,69.18 510.43,68.6 511,70.5 C511.57,72.4 512.22,76.58 512.8,80 C513.38,83.42 513.88,87.83 514.5,91 C515.12,94.17 515.75,96.83 516.5,99 C517.25,101.17 517.92,102.57 519,104 C520.08,105.43 521.58,107.12 523,107.6 C524.42,108.08 526.17,107.33 527.5,106.9 C528.83,106.47 529.92,105.37 531,105 C532.08,104.63 533,104.48 534,104.7 C535,104.92 535.7,105.55 537,106.3 C538.3,107.05 541,108.72 541.8,109.2" fill="none" stroke="#ff00ff" stroke-width="1.6" stroke-linejoin="round" stroke-linecap="round" />
<path d="M348.6,112.3 C352.17,112.3 363.93,112.28 370,112.3 C376.07,112.32 381.17,112.25 385,112.4 C388.83,112.55 390.45,112.47 393,113.2 C395.55,113.93 398.12,115.52 400.3,116.8 C402.48,118.08 404.65,120.05 406.1,120.9 C407.55,121.75 408.02,121.78 409,121.9 C409.98,122.02 411.03,121.77 412,121.6 C412.97,121.43 413.6,121.33 414.8,120.9 C416,120.47 417.5,119.55 419.2,119 C420.9,118.45 422.45,118.02 425,117.6 C427.55,117.18 431.7,116.87 434.5,116.5 C437.3,116.13 439.37,115.88 441.8,115.4 C444.23,114.92 446.43,114.13 449.1,113.6 C451.77,113.07 454.9,112.52 457.8,112.2 C460.7,111.88 463.58,111.53 466.5,111.7 C469.42,111.87 472.63,112.58 475.3,113.2 C477.97,113.82 480.32,114.32 482.5,115.4 C484.68,116.48 486.93,118.18 488.4,119.7 C489.87,121.22 490.37,122.45 491.3,124.5 C492.23,126.55 493.13,129.58 494,132 C494.87,134.42 495.8,137.45 496.5,139 C497.2,140.55 497.62,140.55 498.2,141.3 C498.78,142.05 499.37,142.78 500,143.5 C500.63,144.22 501.4,145.32 502,145.6 C502.6,145.88 503.02,145.97 503.6,145.2 C504.18,144.43 504.8,143.03 505.5,141 C506.2,138.97 507.08,135.93 507.8,133 C508.52,130.07 508.98,125.93 509.8,123.4 C510.62,120.87 511.82,119.05 512.7,117.8 C513.58,116.55 514.13,116.35 515.1,115.9 C516.07,115.45 517.22,115.03 518.5,115.1 C519.78,115.17 521.37,116.28 522.8,116.3 C524.23,116.32 525.53,115.8 527.1,115.2 C528.67,114.6 530.63,113.25 532.2,112.7 C533.77,112.15 534.9,111.95 536.5,111.9 C538.1,111.85 540.92,112.32 541.8,112.4" fill="none" stroke="#ff00ff" stroke-width="1.6" stroke-linejoin="round" stroke-linecap="round" />
<path d="M348.6,112.1 C352.17,112.1 363.93,112.12 370,112.1 C376.07,112.08 380.83,112.13 385,112 C389.17,111.87 392.45,111.58 395,111.3 C397.55,111.02 398.93,110.63 400.3,110.3 C401.67,109.97 401.75,110.15 403.2,109.3 C404.65,108.45 407.07,106.25 409,105.2 C410.93,104.15 413.13,103.43 414.8,103 C416.47,102.57 417.78,102.55 419,102.6 C420.22,102.65 420.77,102.98 422.1,103.3 C423.43,103.62 425.52,104.18 427,104.5 C428.48,104.82 429.5,104.97 431,105.2 C432.5,105.43 434.2,105.63 436,105.9 C437.8,106.17 439.62,106.32 441.8,106.8 C443.98,107.28 446.43,108.07 449.1,108.8 C451.77,109.53 454.9,110.72 457.8,111.2 C460.7,111.68 463.58,111.77 466.5,111.7 C469.42,111.63 472.63,111.25 475.3,110.8 C477.97,110.35 480.08,109.77 482.5,109 C484.92,108.23 487.62,107.45 489.8,106.2 C491.98,104.95 493.98,103.53 495.6,101.5 C497.22,99.47 498.43,96.58 499.5,94 C500.57,91.42 501.35,88 502,86 C502.65,84 502.97,82.3 503.4,82 C503.83,81.7 504.2,84.03 504.6,84.2 C505,84.37 505.32,84.53 505.8,83 C506.28,81.47 506.9,77.4 507.5,75 C508.1,72.6 508.82,69.35 509.4,68.6 C509.98,67.85 510.43,68.6 511,70.5 C511.57,72.4 512.22,76.58 512.8,80 C513.38,83.42 513.88,87.83 514.5,91 C515.12,94.17 515.75,96.83 516.5,99 C517.25,101.17 517.92,102.57 519,104 C520.08,105.43 521.58,107.12 523,107.6 C524.42,108.08 526.17,107.33 527.5,106.9 C528.83,106.47 529.92,105.37 531,105 C532.08,104.63 533,104.48 534,104.7 C535,104.92 535.7,105.55 537,106.3 C538.3,107.05 541,108.72 541.8,109.2" fill="none" stroke="#ff0a0a" stroke-width="1.6" stroke-linejoin="round" stroke-linecap="round" />
<path d="M348.6,112.3 C352.17,112.3 363.93,112.28 370,112.3 C376.07,112.32 381.17,112.28 385,112.4 C388.83,112.52 390.45,112.43 393,113 C395.55,113.57 398.47,114.87 400.3,115.8 C402.13,116.73 402.55,117.83 404,118.6 C405.45,119.37 407.67,120.12 409,120.4 C410.33,120.68 411.03,120.4 412,120.3 C412.97,120.2 413.6,120.08 414.8,119.8 C416,119.52 417.5,118.98 419.2,118.6 C420.9,118.22 422.45,117.83 425,117.5 C427.55,117.17 431.7,116.93 434.5,116.6 C437.3,116.27 439.37,115.98 441.8,115.5 C444.23,115.02 446.43,114.23 449.1,113.7 C451.77,113.17 454.9,112.62 457.8,112.3 C460.7,111.98 463.58,111.63 466.5,111.8 C469.42,111.97 472.63,112.67 475.3,113.3 C477.97,113.93 480.32,114.45 482.5,115.6 C484.68,116.75 486.93,118.55 488.4,120.2 C489.87,121.85 490.37,123.37 491.3,125.5 C492.23,127.63 493.13,130.82 494,133 C494.87,135.18 495.78,137.43 496.5,138.6 C497.22,139.77 497.67,139.67 498.3,140 C498.93,140.33 499.63,140.13 500.3,140.6 C500.97,141.07 501.58,142.1 502.3,142.8 C503.02,143.5 503.95,145.1 504.6,144.8 C505.25,144.5 505.65,142.97 506.2,141 C506.75,139.03 507.28,135.9 507.9,133 C508.52,130.1 509.08,126.13 509.9,123.6 C510.72,121.07 511.93,119.1 512.8,117.8 C513.67,116.5 514.15,116.28 515.1,115.8 C516.05,115.32 517.22,114.93 518.5,114.9 C519.78,114.87 521.37,115.62 522.8,115.6 C524.23,115.58 525.53,115.35 527.1,114.8 C528.67,114.25 530.63,112.83 532.2,112.3 C533.77,111.77 534.9,111.62 536.5,111.6 C538.1,111.58 540.92,112.1 541.8,112.2" fill="none" stroke="#ff0a0a" stroke-width="1.6" stroke-linejoin="round" stroke-linecap="round" />
</g>
<rect x="348.6" y="3.6" width="193.3" height="172.1" fill="none" stroke="#000" stroke-width="1.5" />
<line x1="348.6" y1="175.41" x2="351.6" y2="175.41" stroke="#000" stroke-width="1" />
<line x1="348.6" y1="143.63" x2="351.6" y2="143.63" stroke="#000" stroke-width="1" />
<line x1="348.6" y1="111.85" x2="351.6" y2="111.85" stroke="#000" stroke-width="1" />
<line x1="348.6" y1="80.07" x2="351.6" y2="80.07" stroke="#000" stroke-width="1" />
<line x1="348.6" y1="48.29" x2="351.6" y2="48.29" stroke="#000" stroke-width="1" />
<line x1="348.6" y1="16.51" x2="351.6" y2="16.51" stroke="#000" stroke-width="1" />
<line x1="348.6" y1="159.52" x2="350.6" y2="159.52" stroke="#000" stroke-width="1" />
<line x1="348.6" y1="127.74" x2="350.6" y2="127.74" stroke="#000" stroke-width="1" />
<line x1="348.6" y1="95.96" x2="350.6" y2="95.96" stroke="#000" stroke-width="1" />
<line x1="348.6" y1="64.18" x2="350.6" y2="64.18" stroke="#000" stroke-width="1" />
<line x1="348.6" y1="32.4" x2="350.6" y2="32.4" stroke="#000" stroke-width="1" />
<line x1="348.6" y1="175.7" x2="348.6" y2="172.7" stroke="#000" stroke-width="1" />
<line x1="412.94" y1="175.7" x2="412.94" y2="172.7" stroke="#000" stroke-width="1" />
<line x1="477.27" y1="175.7" x2="477.27" y2="172.7" stroke="#000" stroke-width="1" />
<line x1="541.61" y1="175.7" x2="541.61" y2="172.7" stroke="#000" stroke-width="1" />
<line x1="380.77" y1="175.7" x2="380.77" y2="173.7" stroke="#000" stroke-width="1" />
<line x1="445.1" y1="175.7" x2="445.1" y2="173.7" stroke="#000" stroke-width="1" />
<line x1="509.44" y1="175.7" x2="509.44" y2="173.7" stroke="#000" stroke-width="1" />
<text x="345.2" y="178.81" font-size="9.6" text-anchor="end" fill="#000" font-weight="bold"  stroke="#000" stroke-width="0.2">-1000</text>
<text x="345.2" y="147.03" font-size="9.6" text-anchor="end" fill="#000" font-weight="bold"  stroke="#000" stroke-width="0.2">-500</text>
<text x="345.2" y="115.25" font-size="9.6" text-anchor="end" fill="#000" font-weight="bold"  stroke="#000" stroke-width="0.2">0</text>
<text x="345.2" y="83.47" font-size="9.6" text-anchor="end" fill="#000" font-weight="bold"  stroke="#000" stroke-width="0.2">500</text>
<text x="345.2" y="51.69" font-size="9.6" text-anchor="end" fill="#000" font-weight="bold"  stroke="#000" stroke-width="0.2">1000</text>
<text x="345.2" y="19.91" font-size="9.6" text-anchor="end" fill="#000" font-weight="bold"  stroke="#000" stroke-width="0.2">1500</text>
<text x="348.6" y="187.8" font-size="10" text-anchor="middle" fill="#000" font-weight="bold"  stroke="#000" stroke-width="0.2">3.5</text>
<text x="412.94" y="187.8" font-size="10" text-anchor="middle" fill="#000" font-weight="bold"  stroke="#000" stroke-width="0.2">4.0</text>
<text x="477.27" y="187.8" font-size="10" text-anchor="middle" fill="#000" font-weight="bold"  stroke="#000" stroke-width="0.2">4.5</text>
<text x="541.11" y="187.8" font-size="10" text-anchor="middle" fill="#000" font-weight="bold"  stroke="#000" stroke-width="0.2">5.0</text>
<text x="445.8" y="202.3" font-size="10.6" text-anchor="middle" fill="#000" font-weight="bold"  stroke="#000" stroke-width="0.2">Voltage (V)</text>
<text transform="translate(325.8,89.8) rotate(-90)" font-size="12.1" text-anchor="middle" font-weight="bold" stroke="#000" stroke-width="0.2" textLength="106.4" lengthAdjust="spacingAndGlyphs">dQ/dV (mAh g<tspan font-size="82%" dy="-5">-1</tspan><tspan dy="5"> V</tspan><tspan font-size="82%" dy="-5">-1</tspan><tspan dy="5">)</tspan></text>
<text x="352.6" y="21.6" font-size="17.5" text-anchor="start" fill="#000" font-weight="bold"  textLength="8.6" lengthAdjust="spacingAndGlyphs" stroke="#000" stroke-width="0.2">b</text>
<rect x="441.3" y="3.6" width="100.5" height="46.8" fill="#fff" stroke="#000" stroke-width="1.0" />
<line x1="442.5" y1="9.6" x2="460.2" y2="9.6" stroke="#000000" stroke-width="1.0" />
<text x="462.2" y="12.6" font-size="8.1" text-anchor="start" fill="#000000" font-weight="bold"  stroke="#000000" stroke-width="0.2">Bare LNMO</text>
<line x1="442.5" y1="21" x2="460.2" y2="21" stroke="#ff1a1a" stroke-width="1.5" />
<text x="462.2" y="24" font-size="8.1" text-anchor="start" fill="#ff1a1a" font-weight="bold"  stroke="#ff1a1a" stroke-width="0.2">2.5% LATP/C-LNMO</text>
<line x1="442.5" y1="32.4" x2="460.2" y2="32.4" stroke="#2323ff" stroke-width="1.5" />
<text x="462.2" y="35.4" font-size="8.1" text-anchor="start" fill="#2323ff" font-weight="bold"  stroke="#2323ff" stroke-width="0.2">5% LATP/C-LNMO</text>
<line x1="442.5" y1="43.9" x2="460.2" y2="43.9" stroke="#ff1aff" stroke-width="1.5" />
<text x="462.2" y="46.9" font-size="8.1" text-anchor="start" fill="#ff1aff" font-weight="bold"  stroke="#ff1aff" stroke-width="0.2">7% LATP/C-LNMO</text>
<rect x="380.9" y="85.4" width="49.5" height="13.6" fill="#f6cfcf" stroke="none" stroke-width="1" />
<text x="382.1" y="96.1" font-size="9.6" text-anchor="start" fill="#000" font-weight="bold"  textLength="47.4" lengthAdjust="spacingAndGlyphs" stroke="#000" stroke-width="0.2">Mn<tspan font-size="6.6" dy="-4.0">3+</tspan><tspan dy="4.0" font-family="DejaVu Sans, sans-serif" font-weight="normal" font-size="10.5">&#8594;</tspan><tspan>Mn</tspan><tspan font-size="6.6" dy="-4.0">4+</tspan></text>
<rect x="374.5" y="124.2" width="49.5" height="14.4" fill="#cacaf2" stroke="none" stroke-width="1" />
<text x="376" y="135.3" font-size="9.6" text-anchor="start" fill="#000" font-weight="bold"  textLength="46.3" lengthAdjust="spacingAndGlyphs" stroke="#000" stroke-width="0.2">Mn<tspan font-size="6.6" dy="-4.0">4+</tspan><tspan dy="4.0" font-family="DejaVu Sans, sans-serif" font-weight="normal" font-size="10.5">&#8594;</tspan><tspan>Mn</tspan><tspan font-size="6.6" dy="-4.0">3+</tspan></text>
<rect x="463.3" y="56.1" width="41" height="13.6" fill="#f6cfcf" stroke="none" stroke-width="1" />
<text x="464.7" y="66.8" font-size="9.6" text-anchor="start" fill="#000" font-weight="bold"  textLength="38.7" lengthAdjust="spacingAndGlyphs" stroke="#000" stroke-width="0.2">Ni<tspan font-size="6.6" dy="-4.0">3+</tspan><tspan dy="4.0" font-family="DejaVu Sans, sans-serif" font-weight="normal" font-size="10.5">&#8594;</tspan><tspan>Ni</tspan><tspan font-size="6.6" dy="-4.0">4+</tspan></text>
<rect x="457.6" y="75.2" width="40.7" height="13.6" fill="#f6cfcf" stroke="none" stroke-width="1" />
<text x="458.7" y="85.8" font-size="9.6" text-anchor="start" fill="#000" font-weight="bold"  textLength="38.2" lengthAdjust="spacingAndGlyphs" stroke="#000" stroke-width="0.2">Ni<tspan font-size="6.6" dy="-4.0">2+</tspan><tspan dy="4.0" font-family="DejaVu Sans, sans-serif" font-weight="normal" font-size="10.5">&#8594;</tspan><tspan>Ni</tspan><tspan font-size="6.6" dy="-4.0">3+</tspan></text>
<rect x="452.6" y="137.3" width="41.5" height="13.6" fill="#cacaf2" stroke="none" stroke-width="1" />
<text x="453.8" y="148.5" font-size="9.6" text-anchor="start" fill="#000" font-weight="bold"  textLength="38.5" lengthAdjust="spacingAndGlyphs" stroke="#000" stroke-width="0.2">Ni<tspan font-size="6.6" dy="-4.0">3+</tspan><tspan dy="4.0" font-family="DejaVu Sans, sans-serif" font-weight="normal" font-size="10.5">&#8594;</tspan><tspan>Ni</tspan><tspan font-size="6.6" dy="-4.0">2+</tspan></text>
<rect x="497.7" y="147.6" width="40.9" height="13.7" fill="#cacaf2" stroke="none" stroke-width="1" />
<text x="498.9" y="158.6" font-size="9.6" text-anchor="start" fill="#000" font-weight="bold"  textLength="38.3" lengthAdjust="spacingAndGlyphs" stroke="#000" stroke-width="0.2">Ni<tspan font-size="6.6" dy="-4.0">4+</tspan><tspan dy="4.0" font-family="DejaVu Sans, sans-serif" font-weight="normal" font-size="10.5">&#8594;</tspan><tspan>Ni</tspan><tspan font-size="6.6" dy="-4.0">3+</tspan></text>
<defs><linearGradient id="gb" gradientUnits="userSpaceOnUse" x1="0" y1="255" x2="0" y2="302"><stop offset="0" stop-color="#bdbdbd"/><stop offset="0.5" stop-color="#dcdcdc"/><stop offset="1" stop-color="#ffffff" stop-opacity="0"/></linearGradient><linearGradient id="gc" gradientUnits="userSpaceOnUse" x1="0" y1="319" x2="0" y2="356"><stop offset="0" stop-color="#ffffff" stop-opacity="0"/><stop offset="0.5" stop-color="#dadada"/><stop offset="1" stop-color="#b4b4b8"/></linearGradient><clipPath id="clipHill"><rect x="140" y="255" width="100" height="60"/></clipPath><clipPath id="clipVal"><rect x="120" y="310" width="80" height="45.5"/></clipPath></defs>
<path d="M151.4,305.6 C152.17,305.52 154.57,305.47 156,305.1 C157.43,304.73 158.5,304.42 160,303.4 C161.5,302.38 163.33,300.65 165,299 C166.67,297.35 168.55,295.53 170,293.5 C171.45,291.47 172.37,289.63 173.7,286.8 C175.03,283.97 176.58,279.97 178,276.5 C179.42,273.03 180.95,268.95 182.2,266 C183.45,263.05 184.48,261.03 185.5,258.8 C186.52,256.57 187.47,254.23 188.3,252.6 C189.13,250.97 189.8,250.02 190.5,249 C191.2,247.98 191.75,247.15 192.5,246.5 C193.25,245.85 194.25,245.25 195,245.1 C195.75,244.95 196.42,245.28 197,245.6 C197.58,245.92 198,246.27 198.5,247 C199,247.73 199.47,248.85 200,250 C200.53,251.15 201.03,252.48 201.7,253.9 C202.37,255.32 203.18,256.88 204,258.5 C204.82,260.12 205.77,262.02 206.6,263.6 C207.43,265.18 208.18,266.58 209,268 C209.82,269.42 210.5,270.47 211.5,272.1 C212.5,273.73 213.78,275.97 215,277.8 C216.22,279.63 217.63,281.6 218.8,283.1 C219.97,284.6 220.8,285.58 222,286.8 C223.2,288.02 224.67,289.3 226,290.4 C227.33,291.5 228.92,292.53 230,293.4 C231.08,294.27 231.87,294.9 232.5,295.6 C233.13,296.3 233.58,297.27 233.8,297.6 L151.4,305.6 Z" fill="url(#gb)" stroke="none" clip-path="url(#clipHill)"/>
<path d="M189,321.5 C188.42,321.95 186.58,323.2 185.5,324.2 C184.42,325.2 183.42,326.37 182.5,327.5 C181.58,328.63 180.83,329.58 180,331 C179.17,332.42 178.23,334.25 177.5,336 C176.77,337.75 176.27,339.5 175.6,341.5 C174.93,343.5 174.22,345.83 173.5,348 C172.78,350.17 172.13,352.33 171.3,354.5 C170.47,356.67 169.42,359.17 168.5,361 C167.58,362.83 166.8,364.3 165.8,365.5 C164.8,366.7 163.58,367.65 162.5,368.2 C161.42,368.75 160.38,369 159.3,368.8 C158.22,368.6 157.1,367.92 156,367 C154.9,366.08 153.78,364.72 152.7,363.3 C151.62,361.88 150.58,360.13 149.5,358.5 C148.42,356.87 147.28,355.33 146.2,353.5 C145.12,351.67 144.03,349.67 143,347.5 C141.97,345.33 141,342.67 140,340.5 C139,338.33 138,336.17 137,334.5 C136,332.83 135.08,331.72 134,330.5 C132.92,329.28 131.08,327.75 130.5,327.2 Z" fill="url(#gc)" stroke="none" clip-path="url(#clipVal)"/>
<g clip-path="url(#clipC)">
<path d="M32.5,310.9 C34.58,310.9 40.53,310.95 45,310.9 C49.47,310.85 55.97,310.72 59.3,310.6 C62.63,310.48 63.38,310.35 65,310.2 C66.62,310.05 67.42,310.1 69,309.7 C70.58,309.3 72.87,308.3 74.5,307.8 C76.13,307.3 77.33,307.23 78.8,306.7 C80.27,306.17 82,305.32 83.3,304.6 C84.6,303.88 85.63,303.12 86.6,302.4 C87.57,301.68 87.78,301.23 89.1,300.3 C90.42,299.37 92.85,297.65 94.5,296.8 C96.15,295.95 97.47,295.57 99,295.2 C100.53,294.83 102.2,294.67 103.7,294.6 C105.2,294.53 106.58,294.62 108,294.8 C109.42,294.98 110.53,295.2 112.2,295.7 C113.87,296.2 116.02,296.98 118,297.8 C119.98,298.62 122.27,299.73 124.1,300.6 C125.93,301.47 127.28,302.27 129,303 C130.72,303.73 132.73,304.43 134.4,305 C136.07,305.57 137.3,306.03 139,306.4 C140.7,306.77 142.93,307.1 144.6,307.2 C146.27,307.3 147.3,307.23 149,307 C150.7,306.77 152.97,306.43 154.8,305.8 C156.63,305.17 158.28,304.23 160,303.2 C161.72,302.17 163.43,301.3 165.1,299.6 C166.77,297.9 168.35,295.18 170,293 C171.65,290.82 173.33,288.67 175,286.5 C176.67,284.33 178.5,281.7 180,280 C181.5,278.3 182.83,277.22 184,276.3 C185.17,275.38 186.17,274.88 187,274.5 C187.83,274.12 188.25,273.98 189,274 C189.75,274.02 190.67,274.22 191.5,274.6 C192.33,274.98 192.92,275.32 194,276.3 C195.08,277.28 196.67,279.05 198,280.5 C199.33,281.95 200.67,283.55 202,285 C203.33,286.45 204.67,287.87 206,289.2 C207.33,290.53 208.5,291.83 210,293 C211.5,294.17 213.33,295.27 215,296.2 C216.67,297.13 218.33,297.93 220,298.6 C221.67,299.27 223.33,299.78 225,300.2 C226.67,300.62 228.17,300.8 230,301.1 C231.83,301.4 235,301.27 236,302 C237,302.73 236,304.92 236,305.5" fill="none" stroke="#000" stroke-width="1.9" stroke-linejoin="round" stroke-linecap="round" />
<path d="M236,305.5 C234.67,305.83 230.6,306.78 228,307.5 C225.4,308.22 222.73,309.05 220.4,309.8 C218.07,310.55 216.18,311.27 214,312 C211.82,312.73 209.63,313.47 207.3,314.2 C204.97,314.93 202.18,315.7 200,316.4 C197.82,317.1 196.03,317.63 194.2,318.4 C192.37,319.17 190.45,320.07 189,321 C187.55,321.93 186.67,322.77 185.5,324 C184.33,325.23 183.1,326.95 182,328.4 C180.9,329.85 179.98,331.18 178.9,332.7 C177.82,334.22 176.58,336.22 175.5,337.5 C174.42,338.78 173.57,339.6 172.4,340.4 C171.23,341.2 169.97,341.95 168.5,342.3 C167.03,342.65 165.18,342.8 163.6,342.5 C162.02,342.2 160.45,341.4 159,340.5 C157.55,339.6 156.32,338.43 154.9,337.1 C153.48,335.77 151.95,333.95 150.5,332.5 C149.05,331.05 147.7,329.77 146.2,328.4 C144.7,327.03 142.95,325.43 141.5,324.3 C140.05,323.17 138.83,322.48 137.5,321.6 C136.17,320.72 134.97,319.63 133.5,319 C132.03,318.37 130.28,317.97 128.7,317.8 C127.12,317.63 125.75,317.75 124,318 C122.25,318.25 120.62,318.75 118.2,319.3 C115.78,319.85 112.42,320.65 109.5,321.3 C106.58,321.95 103.62,322.6 100.7,323.2 C97.78,323.8 94.67,324.53 92,324.9 C89.33,325.27 86.78,325.45 84.7,325.4 C82.62,325.35 80.7,324.83 79.5,324.6 C78.3,324.37 78.33,324.35 77.5,324 C76.67,323.65 75.48,323.12 74.5,322.5 C73.52,321.88 72.6,321.05 71.6,320.3 C70.6,319.55 69.47,318.72 68.5,318 C67.53,317.28 66.88,316.58 65.8,316 C64.72,315.42 63.08,314.85 62,314.5 C60.92,314.15 60.63,314.15 59.3,313.9 C57.97,313.65 55.63,313.23 54,313 C52.37,312.77 51.87,312.68 49.5,312.5 C47.13,312.32 42.63,312.07 39.8,311.9 C36.97,311.73 33.72,311.57 32.5,311.5" fill="none" stroke="#000" stroke-width="1.9" stroke-linejoin="round" stroke-linecap="round" />
<path d="M32.5,310.9 C34.58,310.9 40.53,310.97 45,310.9 C49.47,310.83 55.3,310.77 59.3,310.5 C63.3,310.23 65.75,310.03 69,309.3 C72.25,308.57 76.3,307.15 78.8,306.1 C81.3,305.05 82.37,304.13 84,303 C85.63,301.87 86.93,301.03 88.6,299.3 C90.27,297.57 92.43,294.57 94,292.6 C95.57,290.63 96.67,289 98,287.5 C99.33,286 100.83,284.52 102,283.6 C103.17,282.68 104.08,282.33 105,282 C105.92,281.67 106.5,281.6 107.5,281.6 C108.5,281.6 109.65,281.65 111,282 C112.35,282.35 114.1,283.03 115.6,283.7 C117.1,284.37 118.58,285.15 120,286 C121.42,286.85 122.77,287.8 124.1,288.8 C125.43,289.8 126.57,290.83 128,292 C129.43,293.17 131.2,294.55 132.7,295.8 C134.2,297.05 135.58,298.4 137,299.5 C138.42,300.6 139.7,301.55 141.2,302.4 C142.7,303.25 144.3,304.07 146,304.6 C147.7,305.13 149.73,305.52 151.4,305.6 C153.07,305.68 154.57,305.47 156,305.1 C157.43,304.73 158.5,304.42 160,303.4 C161.5,302.38 163.33,300.65 165,299 C166.67,297.35 168.55,295.53 170,293.5 C171.45,291.47 172.37,289.63 173.7,286.8 C175.03,283.97 176.58,279.97 178,276.5 C179.42,273.03 180.95,268.95 182.2,266 C183.45,263.05 184.48,261.03 185.5,258.8 C186.52,256.57 187.47,254.23 188.3,252.6 C189.13,250.97 189.8,250.02 190.5,249 C191.2,247.98 191.75,247.15 192.5,246.5 C193.25,245.85 194.25,245.25 195,245.1 C195.75,244.95 196.42,245.28 197,245.6 C197.58,245.92 198,246.27 198.5,247 C199,247.73 199.47,248.85 200,250 C200.53,251.15 201.03,252.48 201.7,253.9 C202.37,255.32 203.18,256.88 204,258.5 C204.82,260.12 205.77,262.02 206.6,263.6 C207.43,265.18 208.18,266.58 209,268 C209.82,269.42 210.5,270.47 211.5,272.1 C212.5,273.73 213.78,275.97 215,277.8 C216.22,279.63 217.63,281.6 218.8,283.1 C219.97,284.6 220.8,285.58 222,286.8 C223.2,288.02 224.67,289.3 226,290.4 C227.33,291.5 228.92,292.53 230,293.4 C231.08,294.27 231.87,294.9 232.5,295.6 C233.13,296.3 233.68,296.82 233.8,297.6 C233.92,298.38 233.67,299.57 233.2,300.3 C232.73,301.03 232.2,301.3 231,302 C229.8,302.7 227.77,303.6 226,304.5 C224.23,305.4 222.4,306.45 220.4,307.4 C218.4,308.35 216.18,309.27 214,310.2 C211.82,311.13 209.63,312.07 207.3,313 C204.97,313.93 202.18,314.88 200,315.8 C197.82,316.72 196.03,317.55 194.2,318.5 C192.37,319.45 190.45,320.55 189,321.5 C187.55,322.45 186.58,323.2 185.5,324.2 C184.42,325.2 183.42,326.37 182.5,327.5 C181.58,328.63 180.83,329.58 180,331 C179.17,332.42 178.23,334.25 177.5,336 C176.77,337.75 176.27,339.5 175.6,341.5 C174.93,343.5 174.22,345.83 173.5,348 C172.78,350.17 172.13,352.33 171.3,354.5 C170.47,356.67 169.42,359.17 168.5,361 C167.58,362.83 166.8,364.3 165.8,365.5 C164.8,366.7 163.58,367.65 162.5,368.2 C161.42,368.75 160.38,369 159.3,368.8 C158.22,368.6 157.1,367.92 156,367 C154.9,366.08 153.78,364.72 152.7,363.3 C151.62,361.88 150.58,360.13 149.5,358.5 C148.42,356.87 147.28,355.33 146.2,353.5 C145.12,351.67 144.03,349.67 143,347.5 C141.97,345.33 141,342.67 140,340.5 C139,338.33 138,336.17 137,334.5 C136,332.83 135.08,331.72 134,330.5 C132.92,329.28 131.67,328.08 130.5,327.2 C129.33,326.32 128.08,325.7 127,325.2 C125.92,324.7 125,324.37 124,324.2 C123,324.03 121.97,324.1 121,324.2 C120.03,324.3 119.28,324.47 118.2,324.8 C117.12,325.13 115.72,325.73 114.5,326.2 C113.28,326.67 112.15,327.13 110.9,327.6 C109.65,328.07 108.22,328.5 107,329 C105.78,329.5 105.13,329.9 103.6,330.6 C102.07,331.3 99.65,332.37 97.8,333.2 C95.95,334.03 94.13,334.97 92.5,335.6 C90.87,336.23 89.3,336.7 88,337 C86.7,337.3 85.95,337.43 84.7,337.4 C83.45,337.37 81.87,337.15 80.5,336.8 C79.13,336.45 77.73,335.88 76.5,335.3 C75.27,334.72 74.1,334.02 73.1,333.3 C72.1,332.58 71.23,331.75 70.5,331 C69.77,330.25 69.37,329.72 68.7,328.8 C68.03,327.88 67.22,326.57 66.5,325.5 C65.78,324.43 65.15,323.32 64.4,322.4 C63.65,321.48 62.73,320.7 62,320 C61.27,319.3 61,318.9 60,318.2 C59,317.5 57.67,316.53 56,315.8 C54.33,315.07 51.83,314.33 50,313.8 C48.17,313.27 46.83,312.95 45,312.6 C43.17,312.25 41.08,311.93 39,311.7 C36.92,311.47 33.58,311.28 32.5,311.2" fill="none" stroke="#2a2aee" stroke-width="1.2" stroke-linejoin="round" stroke-linecap="round" />
</g>
<ellipse cx="109.8" cy="288.8" rx="20.8" ry="8.3" fill="#64b464" fill-opacity="0.32"/>
<ellipse cx="80.8" cy="332.2" rx="20.2" ry="7.8" fill="#ddd08c" fill-opacity="0.45" transform="rotate(-9 80.8 332.2)"/>
<ellipse cx="194.1" cy="250.6" rx="20.6" ry="7.8" fill="#c8bccc" fill-opacity="0.6"/>
<ellipse cx="160.4" cy="362.2" rx="20.7" ry="8.3" fill="#f5c890" fill-opacity="0.48"/>
<text x="108.8" y="292.3" font-size="12.5" text-anchor="middle" fill="#ff2020" font-weight="bold"  stroke="#ff2020" stroke-width="0.2">a</text>
<text x="80.3" y="335.4" font-size="12.5" text-anchor="middle" fill="#ff2020" font-weight="bold"  stroke="#ff2020" stroke-width="0.2">d</text>
<text x="194.2" y="257.5" font-size="12.5" text-anchor="middle" fill="#ff2020" font-weight="normal" >b</text>
<text x="160.5" y="364.6" font-size="12.5" text-anchor="middle" fill="#ff2020" font-weight="bold"  stroke="#ff2020" stroke-width="0.2">c</text>
<rect x="32.3" y="205.6" width="203.3" height="173.7" fill="none" stroke="#000" stroke-width="1.5" />
<line x1="32.3" y1="365.5" x2="35.3" y2="365.5" stroke="#000" stroke-width="1" />
<line x1="32.3" y1="338.05" x2="35.3" y2="338.05" stroke="#000" stroke-width="1" />
<line x1="32.3" y1="310.6" x2="35.3" y2="310.6" stroke="#000" stroke-width="1" />
<line x1="32.3" y1="283.15" x2="35.3" y2="283.15" stroke="#000" stroke-width="1" />
<line x1="32.3" y1="255.7" x2="35.3" y2="255.7" stroke="#000" stroke-width="1" />
<line x1="32.3" y1="228.25" x2="35.3" y2="228.25" stroke="#000" stroke-width="1" />
<line x1="32.3" y1="379.23" x2="34.3" y2="379.23" stroke="#000" stroke-width="1" />
<line x1="32.3" y1="351.78" x2="34.3" y2="351.78" stroke="#000" stroke-width="1" />
<line x1="32.3" y1="324.33" x2="34.3" y2="324.33" stroke="#000" stroke-width="1" />
<line x1="32.3" y1="296.88" x2="34.3" y2="296.88" stroke="#000" stroke-width="1" />
<line x1="32.3" y1="269.43" x2="34.3" y2="269.43" stroke="#000" stroke-width="1" />
<line x1="32.3" y1="241.98" x2="34.3" y2="241.98" stroke="#000" stroke-width="1" />
<line x1="32.3" y1="214.53" x2="34.3" y2="214.53" stroke="#000" stroke-width="1" />
<line x1="32.3" y1="379.3" x2="32.3" y2="376.3" stroke="#000" stroke-width="1" />
<line x1="92.1" y1="379.3" x2="92.1" y2="376.3" stroke="#000" stroke-width="1" />
<line x1="151.9" y1="379.3" x2="151.9" y2="376.3" stroke="#000" stroke-width="1" />
<line x1="211.7" y1="379.3" x2="211.7" y2="376.3" stroke="#000" stroke-width="1" />
<line x1="62.2" y1="379.3" x2="62.2" y2="377.3" stroke="#000" stroke-width="1" />
<line x1="122" y1="379.3" x2="122" y2="377.3" stroke="#000" stroke-width="1" />
<line x1="181.8" y1="379.3" x2="181.8" y2="377.3" stroke="#000" stroke-width="1" />
<text x="29" y="368.9" font-size="10" text-anchor="end" fill="#000" font-weight="bold"  stroke="#000" stroke-width="0.2">-1.0</text>
<text x="29" y="341.45" font-size="10" text-anchor="end" fill="#000" font-weight="bold"  stroke="#000" stroke-width="0.2">-0.5</text>
<text x="29" y="314" font-size="10" text-anchor="end" fill="#000" font-weight="bold"  stroke="#000" stroke-width="0.2">0.0</text>
<text x="29" y="286.55" font-size="10" text-anchor="end" fill="#000" font-weight="bold"  stroke="#000" stroke-width="0.2">0.5</text>
<text x="29" y="259.1" font-size="10" text-anchor="end" fill="#000" font-weight="bold"  stroke="#000" stroke-width="0.2">1.0</text>
<text x="29" y="231.65" font-size="10" text-anchor="end" fill="#000" font-weight="bold"  stroke="#000" stroke-width="0.2">1.5</text>
<text x="32.3" y="391.8" font-size="10" text-anchor="middle" fill="#000" font-weight="bold"  stroke="#000" stroke-width="0.2">3.5</text>
<text x="92.1" y="391.8" font-size="10" text-anchor="middle" fill="#000" font-weight="bold"  stroke="#000" stroke-width="0.2">4.0</text>
<text x="151.9" y="391.8" font-size="10" text-anchor="middle" fill="#000" font-weight="bold"  stroke="#000" stroke-width="0.2">4.5</text>
<text x="211.7" y="391.8" font-size="10" text-anchor="middle" fill="#000" font-weight="bold"  stroke="#000" stroke-width="0.2">5.0</text>
<text x="136.7" y="403.8" font-size="10.9" text-anchor="middle" fill="#000" font-weight="bold"  stroke="#000" stroke-width="0.2">Voltage (V)</text>
<text transform="translate(11.2,289.2) rotate(-90)" font-size="11.5" text-anchor="middle" font-weight="bold" stroke="#000" stroke-width="0.2">Current (mA)</text>
<text x="37" y="223.6" font-size="19" text-anchor="start" fill="#000" font-weight="bold"  textLength="6.8" lengthAdjust="spacingAndGlyphs" stroke="#000" stroke-width="0.2">c</text>
<rect x="144.6" y="206.8" width="92" height="29.5" fill="#303030" stroke="none" stroke-width="1" />
<rect x="143.4" y="205.6" width="92.2" height="29.4" fill="#fff" stroke="#000" stroke-width="0.9" />
<text x="145" y="217.6" font-size="10" text-anchor="start" fill="#2020ff" font-weight="bold"  stroke="#2020ff" stroke-width="0.2">5% LATP/C-LNMO</text>
<text x="145" y="230.2" font-size="10" text-anchor="start" fill="#000" font-weight="bold"  stroke="#000" stroke-width="0.2">bare LNMO</text>
<rect x="42.7" y="236.5" width="125.4" height="43" fill="#e9f2e1" stroke="none" stroke-width="1" />
<text x="50.2" y="253.6" font-size="10" text-anchor="start" fill="#ff1a1a" font-weight="bold"  stroke="#ff1a1a" stroke-width="0.2">a</text>
<text x="57.4" y="253.4" font-size="10" text-anchor="start" fill="#000" font-weight="bold"  textLength="50.2" lengthAdjust="spacingAndGlyphs" stroke="#000" stroke-width="0.2">Mn<tspan font-size="6.6" dy="-4.0">3+</tspan><tspan dy="4.0" font-family="DejaVu Sans, sans-serif" font-weight="normal" font-size="10.5">&#8594;</tspan><tspan>Mn</tspan><tspan font-size="6.6" dy="-4.0">4+</tspan></text>
<text x="112.4" y="253.8" font-size="10" text-anchor="start" fill="#ff1a1a" font-weight="bold"  stroke="#ff1a1a" stroke-width="0.2">b</text>
<text x="119.1" y="253.9" font-size="10" text-anchor="start" fill="#000" font-weight="bold"  textLength="42.3" lengthAdjust="spacingAndGlyphs" stroke="#000" stroke-width="0.2">Ni<tspan font-size="6.6" dy="-4.0">2+</tspan><tspan dy="4.0" font-family="DejaVu Sans, sans-serif" font-weight="normal" font-size="10.5">&#8594;</tspan><tspan>Ni</tspan><tspan font-size="6.6" dy="-4.0">4+</tspan></text>
<text x="50" y="268.8" font-size="10" text-anchor="start" fill="#ff1a1a" font-weight="bold"  stroke="#ff1a1a" stroke-width="0.2">d</text>
<text x="57.4" y="268.6" font-size="10" text-anchor="start" fill="#000" font-weight="bold"  textLength="50.2" lengthAdjust="spacingAndGlyphs" stroke="#000" stroke-width="0.2">Mn<tspan font-size="6.6" dy="-4.0">3+</tspan><tspan dy="4.0" font-family="DejaVu Sans, sans-serif" font-weight="normal" font-size="10.5">&#8594;</tspan><tspan>Mn</tspan><tspan font-size="6.6" dy="-4.0">4+</tspan></text>
<text x="111.6" y="269.4" font-size="10" text-anchor="start" fill="#ff1a1a" font-weight="bold"  stroke="#ff1a1a" stroke-width="0.2">c</text>
<text x="118.4" y="269.6" font-size="10" text-anchor="start" fill="#000" font-weight="bold"  textLength="42.3" lengthAdjust="spacingAndGlyphs" stroke="#000" stroke-width="0.2">Ni<tspan font-size="6.6" dy="-4.0">4+</tspan><tspan dy="4.0" font-family="DejaVu Sans, sans-serif" font-weight="normal" font-size="10.5">&#8594;</tspan><tspan>Ni</tspan><tspan font-size="6.6" dy="-4.0">3+</tspan></text>
<line x1="101.4" y1="239.6" x2="114.5" y2="239.6" stroke="#178a24" stroke-width="2.2" />
<polygon points="118,239.6 113,242.1 113,237.1" fill="#178a24"/>
<line x1="117.7" y1="276.4" x2="103.9" y2="276.4" stroke="#178a24" stroke-width="2.2" />
<polygon points="100.4,276.4 105.4,273.9 105.4,278.9" fill="#178a24"/>
<line x1="47.7" y1="269.4" x2="47.7" y2="253.9" stroke="#178a24" stroke-width="2.2" />
<polygon points="47.7,250.4 50.2,255.4 45.2,255.4" fill="#178a24"/>
<line x1="165.3" y1="249.8" x2="165.3" y2="263.9" stroke="#178a24" stroke-width="2.2" />
<polygon points="165.3,267.4 162.8,262.4 167.8,262.4" fill="#178a24"/>
<line x1="348.4" y1="206.6" x2="348.4" y2="380.1" stroke="#c9c9c9" stroke-width="0.8" stroke-dasharray="1.6,2.2"/>
<line x1="370.85" y1="206.6" x2="370.85" y2="380.1" stroke="#c9c9c9" stroke-width="0.8" stroke-dasharray="1.6,2.2"/>
<line x1="393.3" y1="206.6" x2="393.3" y2="380.1" stroke="#c9c9c9" stroke-width="0.8" stroke-dasharray="1.6,2.2"/>
<line x1="415.75" y1="206.6" x2="415.75" y2="380.1" stroke="#c9c9c9" stroke-width="0.8" stroke-dasharray="1.6,2.2"/>
<line x1="438.2" y1="206.6" x2="438.2" y2="380.1" stroke="#c9c9c9" stroke-width="0.8" stroke-dasharray="1.6,2.2"/>
<line x1="460.65" y1="206.6" x2="460.65" y2="380.1" stroke="#c9c9c9" stroke-width="0.8" stroke-dasharray="1.6,2.2"/>
<line x1="483.1" y1="206.6" x2="483.1" y2="380.1" stroke="#c9c9c9" stroke-width="0.8" stroke-dasharray="1.6,2.2"/>
<line x1="505.55" y1="206.6" x2="505.55" y2="380.1" stroke="#c9c9c9" stroke-width="0.8" stroke-dasharray="1.6,2.2"/>
<line x1="528" y1="206.6" x2="528" y2="380.1" stroke="#c9c9c9" stroke-width="0.8" stroke-dasharray="1.6,2.2"/>
<rect x="347" y="237.2" width="181" height="12.3" fill="#ebebeb" stroke="none" stroke-width="1" />
<text x="349.6" y="246.9" font-size="10.6" text-anchor="start" fill="#000" font-weight="bold"  textLength="19" lengthAdjust="spacingAndGlyphs" stroke="#000" stroke-width="0.2">0.1 C</text>
<text x="373" y="246.9" font-size="10.6" text-anchor="start" fill="#000" font-weight="bold"  textLength="19.2" lengthAdjust="spacingAndGlyphs" stroke="#000" stroke-width="0.2">0.2 C</text>
<text x="395.1" y="246.9" font-size="10.6" text-anchor="start" fill="#000" font-weight="bold"  textLength="19.3" lengthAdjust="spacingAndGlyphs" stroke="#000" stroke-width="0.2">0.5 C</text>
<text x="420.5" y="246.9" font-size="10.6" text-anchor="start" fill="#000" font-weight="bold"  textLength="12.2" lengthAdjust="spacingAndGlyphs" stroke="#000" stroke-width="0.2">1 C</text>
<text x="443.3" y="246.9" font-size="10.6" text-anchor="start" fill="#000" font-weight="bold"  textLength="13.1" lengthAdjust="spacingAndGlyphs" stroke="#000" stroke-width="0.2">2 C</text>
<text x="464.7" y="246.9" font-size="10.6" text-anchor="start" fill="#000" font-weight="bold"  textLength="13.5" lengthAdjust="spacingAndGlyphs" stroke="#000" stroke-width="0.2">5 C</text>
<text x="486.5" y="246.9" font-size="10.6" text-anchor="start" fill="#000" font-weight="bold"  textLength="18.2" lengthAdjust="spacingAndGlyphs" stroke="#000" stroke-width="0.2">10 C</text>
<text x="506" y="246.9" font-size="10.6" text-anchor="start" fill="#000" font-weight="bold"  textLength="20" lengthAdjust="spacingAndGlyphs" stroke="#000" stroke-width="0.2">0.1 C</text>
<circle cx="352.89" cy="272.2" r="1.68" fill="#3c3c3c"/>
<circle cx="357.38" cy="272.7" r="1.68" fill="#3c3c3c"/>
<circle cx="361.87" cy="273.6" r="1.68" fill="#3c3c3c"/>
<circle cx="366.36" cy="274.5" r="1.68" fill="#3c3c3c"/>
<circle cx="370.85" cy="275.5" r="1.68" fill="#3c3c3c"/>
<circle cx="375.34" cy="282.7" r="1.68" fill="#3c3c3c"/>
<circle cx="379.83" cy="283.6" r="1.68" fill="#3c3c3c"/>
<circle cx="384.32" cy="284.2" r="1.68" fill="#3c3c3c"/>
<circle cx="388.81" cy="284.2" r="1.68" fill="#3c3c3c"/>
<circle cx="393.3" cy="284.2" r="1.68" fill="#3c3c3c"/>
<circle cx="397.79" cy="284.2" r="1.68" fill="#3c3c3c"/>
<circle cx="402.28" cy="284.5" r="1.68" fill="#3c3c3c"/>
<circle cx="406.77" cy="284.5" r="1.68" fill="#3c3c3c"/>
<circle cx="411.26" cy="284.5" r="1.68" fill="#3c3c3c"/>
<circle cx="415.75" cy="284.9" r="1.68" fill="#3c3c3c"/>
<circle cx="420.24" cy="292.7" r="1.68" fill="#3c3c3c"/>
<circle cx="424.73" cy="292.7" r="1.68" fill="#3c3c3c"/>
<circle cx="429.22" cy="292.7" r="1.68" fill="#3c3c3c"/>
<circle cx="433.71" cy="292.2" r="1.68" fill="#3c3c3c"/>
<circle cx="438.2" cy="292.2" r="1.68" fill="#3c3c3c"/>
<circle cx="442.69" cy="318.2" r="1.68" fill="#3c3c3c"/>
<circle cx="447.18" cy="318.5" r="1.68" fill="#3c3c3c"/>
<circle cx="451.67" cy="319.1" r="1.68" fill="#3c3c3c"/>
<circle cx="456.16" cy="320" r="1.68" fill="#3c3c3c"/>
<circle cx="460.65" cy="320.4" r="1.68" fill="#3c3c3c"/>
<circle cx="465.14" cy="334" r="1.68" fill="#3c3c3c"/>
<circle cx="469.63" cy="335" r="1.68" fill="#3c3c3c"/>
<circle cx="474.12" cy="336.2" r="1.68" fill="#3c3c3c"/>
<circle cx="478.61" cy="337.3" r="1.68" fill="#3c3c3c"/>
<circle cx="483.1" cy="338.7" r="1.68" fill="#3c3c3c"/>
<circle cx="487.59" cy="352.5" r="1.68" fill="#3c3c3c"/>
<circle cx="492.08" cy="352.2" r="1.68" fill="#3c3c3c"/>
<circle cx="496.57" cy="353.6" r="1.68" fill="#3c3c3c"/>
<circle cx="501.06" cy="353.3" r="1.68" fill="#3c3c3c"/>
<circle cx="505.55" cy="354.8" r="1.68" fill="#3c3c3c"/>
<circle cx="510.04" cy="282.1" r="1.68" fill="#3c3c3c"/>
<circle cx="514.53" cy="282.4" r="1.68" fill="#3c3c3c"/>
<circle cx="519.02" cy="282.4" r="1.68" fill="#3c3c3c"/>
<circle cx="523.51" cy="282.4" r="1.68" fill="#3c3c3c"/>
<circle cx="528" cy="282.1" r="1.68" fill="#3c3c3c"/>
<circle cx="352.89" cy="268.5" r="1.68" fill="#ff2a2a"/>
<circle cx="357.38" cy="268.5" r="1.68" fill="#ff2a2a"/>
<circle cx="361.87" cy="268.5" r="1.68" fill="#ff2a2a"/>
<circle cx="366.36" cy="270.4" r="1.68" fill="#ff2a2a"/>
<circle cx="370.85" cy="271.5" r="1.68" fill="#ff2a2a"/>
<circle cx="375.34" cy="275.1" r="1.68" fill="#ff2a2a"/>
<circle cx="379.83" cy="276.9" r="1.68" fill="#ff2a2a"/>
<circle cx="384.32" cy="277.3" r="1.68" fill="#ff2a2a"/>
<circle cx="388.81" cy="277.3" r="1.68" fill="#ff2a2a"/>
<circle cx="393.3" cy="277.3" r="1.68" fill="#ff2a2a"/>
<circle cx="397.79" cy="278.7" r="1.68" fill="#ff2a2a"/>
<circle cx="402.28" cy="279.1" r="1.68" fill="#ff2a2a"/>
<circle cx="406.77" cy="279.5" r="1.68" fill="#ff2a2a"/>
<circle cx="411.26" cy="279.5" r="1.68" fill="#ff2a2a"/>
<circle cx="415.75" cy="279.5" r="1.68" fill="#ff2a2a"/>
<circle cx="420.24" cy="287.3" r="1.68" fill="#ff2a2a"/>
<circle cx="424.73" cy="287.8" r="1.68" fill="#ff2a2a"/>
<circle cx="429.22" cy="288.2" r="1.68" fill="#ff2a2a"/>
<circle cx="433.71" cy="288.5" r="1.68" fill="#ff2a2a"/>
<circle cx="438.2" cy="288.5" r="1.68" fill="#ff2a2a"/>
<circle cx="442.69" cy="313.1" r="1.68" fill="#ff2a2a"/>
<circle cx="447.18" cy="312.4" r="1.68" fill="#ff2a2a"/>
<circle cx="451.67" cy="312.4" r="1.68" fill="#ff2a2a"/>
<circle cx="456.16" cy="311.8" r="1.68" fill="#ff2a2a"/>
<circle cx="460.65" cy="310.9" r="1.68" fill="#ff2a2a"/>
<circle cx="465.14" cy="324.3" r="1.68" fill="#ff2a2a"/>
<circle cx="469.63" cy="324.5" r="1.68" fill="#ff2a2a"/>
<circle cx="474.12" cy="326" r="1.68" fill="#ff2a2a"/>
<circle cx="478.61" cy="327.7" r="1.68" fill="#ff2a2a"/>
<circle cx="483.1" cy="328.2" r="1.68" fill="#ff2a2a"/>
<circle cx="487.59" cy="348.5" r="1.68" fill="#ff2a2a"/>
<circle cx="492.08" cy="347.5" r="1.68" fill="#ff2a2a"/>
<circle cx="496.57" cy="348.5" r="1.68" fill="#ff2a2a"/>
<circle cx="501.06" cy="349.3" r="1.68" fill="#ff2a2a"/>
<circle cx="505.55" cy="349.3" r="1.68" fill="#ff2a2a"/>
<circle cx="510.04" cy="276.8" r="1.68" fill="#ff2a2a"/>
<circle cx="514.53" cy="277.2" r="1.68" fill="#ff2a2a"/>
<circle cx="519.02" cy="277.8" r="1.68" fill="#ff2a2a"/>
<circle cx="523.51" cy="277.8" r="1.68" fill="#ff2a2a"/>
<circle cx="528" cy="277.2" r="1.68" fill="#ff2a2a"/>
<circle cx="352.89" cy="257.3" r="1.68" fill="#1e64e6"/>
<circle cx="357.38" cy="257.3" r="1.68" fill="#1e64e6"/>
<circle cx="361.87" cy="257.6" r="1.68" fill="#1e64e6"/>
<circle cx="366.36" cy="255.8" r="1.68" fill="#1e64e6"/>
<circle cx="370.85" cy="255.8" r="1.68" fill="#1e64e6"/>
<circle cx="375.34" cy="261.8" r="1.68" fill="#1e64e6"/>
<circle cx="379.83" cy="262.4" r="1.68" fill="#1e64e6"/>
<circle cx="384.32" cy="262.4" r="1.68" fill="#1e64e6"/>
<circle cx="388.81" cy="263.1" r="1.68" fill="#1e64e6"/>
<circle cx="393.3" cy="263.6" r="1.68" fill="#1e64e6"/>
<circle cx="397.79" cy="266.7" r="1.68" fill="#1e64e6"/>
<circle cx="402.28" cy="267.3" r="1.68" fill="#1e64e6"/>
<circle cx="406.77" cy="267.6" r="1.68" fill="#1e64e6"/>
<circle cx="411.26" cy="268.2" r="1.68" fill="#1e64e6"/>
<circle cx="415.75" cy="268.7" r="1.68" fill="#1e64e6"/>
<circle cx="420.24" cy="276.9" r="1.68" fill="#1e64e6"/>
<circle cx="424.73" cy="276.9" r="1.68" fill="#1e64e6"/>
<circle cx="429.22" cy="276.9" r="1.68" fill="#1e64e6"/>
<circle cx="433.71" cy="276.9" r="1.68" fill="#1e64e6"/>
<circle cx="438.2" cy="276.9" r="1.68" fill="#1e64e6"/>
<circle cx="442.69" cy="295.5" r="1.68" fill="#1e64e6"/>
<circle cx="447.18" cy="296.7" r="1.68" fill="#1e64e6"/>
<circle cx="451.67" cy="295.5" r="1.68" fill="#1e64e6"/>
<circle cx="456.16" cy="293.6" r="1.68" fill="#1e64e6"/>
<circle cx="460.65" cy="296" r="1.68" fill="#1e64e6"/>
<circle cx="465.14" cy="315.5" r="1.68" fill="#1e64e6"/>
<circle cx="469.63" cy="315.8" r="1.68" fill="#1e64e6"/>
<circle cx="474.12" cy="315.1" r="1.68" fill="#1e64e6"/>
<circle cx="478.61" cy="314.1" r="1.68" fill="#1e64e6"/>
<circle cx="483.1" cy="313.2" r="1.68" fill="#1e64e6"/>
<circle cx="487.59" cy="339.1" r="1.68" fill="#1e64e6"/>
<circle cx="492.08" cy="337.9" r="1.68" fill="#1e64e6"/>
<circle cx="496.57" cy="336.5" r="1.68" fill="#1e64e6"/>
<circle cx="501.06" cy="335.5" r="1.68" fill="#1e64e6"/>
<circle cx="505.55" cy="334.4" r="1.68" fill="#1e64e6"/>
<circle cx="510.04" cy="259.3" r="1.68" fill="#1e64e6"/>
<circle cx="514.53" cy="259.3" r="1.68" fill="#1e64e6"/>
<circle cx="519.02" cy="258.9" r="1.68" fill="#1e64e6"/>
<circle cx="523.51" cy="259.3" r="1.68" fill="#1e64e6"/>
<circle cx="528" cy="259.3" r="1.68" fill="#1e64e6"/>
<circle cx="352.89" cy="261.3" r="1.68" fill="#ff10ff"/>
<circle cx="357.38" cy="261.3" r="1.68" fill="#ff10ff"/>
<circle cx="361.87" cy="261.3" r="1.68" fill="#ff10ff"/>
<circle cx="366.36" cy="261.3" r="1.68" fill="#ff10ff"/>
<circle cx="370.85" cy="261.3" r="1.68" fill="#ff10ff"/>
<circle cx="375.34" cy="265.5" r="1.68" fill="#ff10ff"/>
<circle cx="379.83" cy="266" r="1.68" fill="#ff10ff"/>
<circle cx="384.32" cy="266.4" r="1.68" fill="#ff10ff"/>
<circle cx="388.81" cy="266.7" r="1.68" fill="#ff10ff"/>
<circle cx="393.3" cy="267.3" r="1.68" fill="#ff10ff"/>
<circle cx="397.79" cy="268.2" r="1.68" fill="#ff10ff"/>
<circle cx="402.28" cy="269.1" r="1.68" fill="#ff10ff"/>
<circle cx="406.77" cy="270" r="1.68" fill="#ff10ff"/>
<circle cx="411.26" cy="271.5" r="1.68" fill="#ff10ff"/>
<circle cx="415.75" cy="272.2" r="1.68" fill="#ff10ff"/>
<circle cx="420.24" cy="282.4" r="1.68" fill="#ff10ff"/>
<circle cx="424.73" cy="282.4" r="1.68" fill="#ff10ff"/>
<circle cx="429.22" cy="283.1" r="1.68" fill="#ff10ff"/>
<circle cx="433.71" cy="284.5" r="1.68" fill="#ff10ff"/>
<circle cx="438.2" cy="284.9" r="1.68" fill="#ff10ff"/>
<circle cx="442.69" cy="305.5" r="1.68" fill="#ff10ff"/>
<circle cx="447.18" cy="305.8" r="1.68" fill="#ff10ff"/>
<circle cx="451.67" cy="305.8" r="1.68" fill="#ff10ff"/>
<circle cx="456.16" cy="305.1" r="1.68" fill="#ff10ff"/>
<circle cx="460.65" cy="305.8" r="1.68" fill="#ff10ff"/>
<circle cx="465.14" cy="325.3" r="1.68" fill="#ff10ff"/>
<circle cx="469.63" cy="319.9" r="1.68" fill="#ff10ff"/>
<circle cx="474.12" cy="319.9" r="1.68" fill="#ff10ff"/>
<circle cx="478.61" cy="319.9" r="1.68" fill="#ff10ff"/>
<circle cx="483.1" cy="320.2" r="1.68" fill="#ff10ff"/>
<circle cx="487.59" cy="344.2" r="1.68" fill="#ff10ff"/>
<circle cx="492.08" cy="343.7" r="1.68" fill="#ff10ff"/>
<circle cx="496.57" cy="344.6" r="1.68" fill="#ff10ff"/>
<circle cx="501.06" cy="343.7" r="1.68" fill="#ff10ff"/>
<circle cx="505.55" cy="344.6" r="1.68" fill="#ff10ff"/>
<circle cx="510.04" cy="262.6" r="1.68" fill="#ff10ff"/>
<circle cx="514.53" cy="262.2" r="1.68" fill="#ff10ff"/>
<circle cx="519.02" cy="262.6" r="1.68" fill="#ff10ff"/>
<circle cx="523.51" cy="263.8" r="1.68" fill="#ff10ff"/>
<circle cx="528" cy="264.1" r="1.68" fill="#ff10ff"/>
<rect x="346.2" y="205.6" width="200.7" height="175.5" fill="none" stroke="#000" stroke-width="1.5" />
<line x1="346.2" y1="361.38" x2="349.2" y2="361.38" stroke="#000" stroke-width="1" />
<line x1="346.2" y1="338.9" x2="349.2" y2="338.9" stroke="#000" stroke-width="1" />
<line x1="346.2" y1="316.42" x2="349.2" y2="316.42" stroke="#000" stroke-width="1" />
<line x1="346.2" y1="293.94" x2="349.2" y2="293.94" stroke="#000" stroke-width="1" />
<line x1="346.2" y1="271.46" x2="349.2" y2="271.46" stroke="#000" stroke-width="1" />
<line x1="346.2" y1="248.98" x2="349.2" y2="248.98" stroke="#000" stroke-width="1" />
<line x1="346.2" y1="226.5" x2="349.2" y2="226.5" stroke="#000" stroke-width="1" />
<line x1="346.2" y1="372.62" x2="348.2" y2="372.62" stroke="#000" stroke-width="1" />
<line x1="346.2" y1="350.14" x2="348.2" y2="350.14" stroke="#000" stroke-width="1" />
<line x1="346.2" y1="327.66" x2="348.2" y2="327.66" stroke="#000" stroke-width="1" />
<line x1="346.2" y1="305.18" x2="348.2" y2="305.18" stroke="#000" stroke-width="1" />
<line x1="346.2" y1="282.7" x2="348.2" y2="282.7" stroke="#000" stroke-width="1" />
<line x1="346.2" y1="260.22" x2="348.2" y2="260.22" stroke="#000" stroke-width="1" />
<line x1="346.2" y1="237.74" x2="348.2" y2="237.74" stroke="#000" stroke-width="1" />
<line x1="346.2" y1="215.26" x2="348.2" y2="215.26" stroke="#000" stroke-width="1" />
<line x1="348.4" y1="381.1" x2="348.4" y2="378.1" stroke="#000" stroke-width="1" />
<line x1="393.3" y1="381.1" x2="393.3" y2="378.1" stroke="#000" stroke-width="1" />
<line x1="438.2" y1="381.1" x2="438.2" y2="378.1" stroke="#000" stroke-width="1" />
<line x1="483.1" y1="381.1" x2="483.1" y2="378.1" stroke="#000" stroke-width="1" />
<line x1="528" y1="381.1" x2="528" y2="378.1" stroke="#000" stroke-width="1" />
<line x1="370.85" y1="381.1" x2="370.85" y2="379.1" stroke="#000" stroke-width="1" />
<line x1="415.75" y1="381.1" x2="415.75" y2="379.1" stroke="#000" stroke-width="1" />
<line x1="460.65" y1="381.1" x2="460.65" y2="379.1" stroke="#000" stroke-width="1" />
<line x1="505.55" y1="381.1" x2="505.55" y2="379.1" stroke="#000" stroke-width="1" />
<text x="342.4" y="364.78" font-size="10" text-anchor="end" fill="#000" font-weight="bold"  stroke="#000" stroke-width="0.2">40</text>
<text x="342.4" y="342.3" font-size="10" text-anchor="end" fill="#000" font-weight="bold"  stroke="#000" stroke-width="0.2">60</text>
<text x="342.4" y="319.82" font-size="10" text-anchor="end" fill="#000" font-weight="bold"  stroke="#000" stroke-width="0.2">80</text>
<text x="342.4" y="297.34" font-size="10" text-anchor="end" fill="#000" font-weight="bold"  stroke="#000" stroke-width="0.2">100</text>
<text x="342.4" y="274.86" font-size="10" text-anchor="end" fill="#000" font-weight="bold"  stroke="#000" stroke-width="0.2">120</text>
<text x="342.4" y="252.38" font-size="10" text-anchor="end" fill="#000" font-weight="bold"  stroke="#000" stroke-width="0.2">140</text>
<text x="342.4" y="229.9" font-size="10" text-anchor="end" fill="#000" font-weight="bold"  stroke="#000" stroke-width="0.2">160</text>
<text x="348.4" y="392.8" font-size="10" text-anchor="middle" fill="#000" font-weight="bold"  stroke="#000" stroke-width="0.2">0</text>
<text x="393.3" y="392.8" font-size="10" text-anchor="middle" fill="#000" font-weight="bold"  stroke="#000" stroke-width="0.2">10</text>
<text x="438.2" y="392.8" font-size="10" text-anchor="middle" fill="#000" font-weight="bold"  stroke="#000" stroke-width="0.2">20</text>
<text x="483.1" y="392.8" font-size="10" text-anchor="middle" fill="#000" font-weight="bold"  stroke="#000" stroke-width="0.2">30</text>
<text x="528" y="392.8" font-size="10" text-anchor="middle" fill="#000" font-weight="bold"  stroke="#000" stroke-width="0.2">40</text>
<text x="442.9" y="404.3" font-size="10.6" text-anchor="middle" fill="#000" font-weight="bold"  stroke="#000" stroke-width="0.2">Cycle number</text>
<text transform="translate(323.6,292.8) rotate(-90)" font-size="11.5" text-anchor="middle" font-weight="bold" stroke="#000" stroke-width="0.2" textLength="132.4" lengthAdjust="spacingAndGlyphs">Specific capacity (mAh g<tspan font-size="82%" dy="-5">-1</tspan><tspan dy="5">)</tspan></text>
<text x="349.6" y="224" font-size="17.5" text-anchor="start" fill="#000" font-weight="bold"  textLength="8.9" lengthAdjust="spacingAndGlyphs" stroke="#000" stroke-width="0.2">d</text>
<rect x="476.6" y="210.6" width="61.6" height="12.8" fill="#202020" stroke="none" stroke-width="1" />
<rect x="475.2" y="209.1" width="61.6" height="12.9" fill="#fff" stroke="#000" stroke-width="0.8" />
<text x="476.1" y="218.6" font-size="9.8" text-anchor="start" fill="#000" font-weight="bold"  textLength="18.5" lengthAdjust="spacingAndGlyphs" stroke="#000" stroke-width="0.2">25&#176;C</text>
<text x="502" y="218.6" font-size="9.8" text-anchor="start" fill="#000" font-weight="bold"  textLength="32.8" lengthAdjust="spacingAndGlyphs" stroke="#000" stroke-width="0.2">3.5 ~ 5 V</text>
<rect x="350.3" y="337" width="95.4" height="42.4" fill="#303030" stroke="none" stroke-width="1" />
<rect x="349" y="335.6" width="95.4" height="42.4" fill="#fff" stroke="#000" stroke-width="0.8" />
<circle cx="358.4" cy="341" r="1.5" fill="#3c3c3c"/>
<text x="369.3" y="344.2" font-size="8.8" text-anchor="start" fill="#000000" font-weight="bold"  textLength="41" lengthAdjust="spacingAndGlyphs" stroke="#000000" stroke-width="0.2">Bare LNMO</text>
<circle cx="358.4" cy="351.4" r="1.5" fill="#ff2a2a"/>
<text x="369.3" y="354.6" font-size="8.8" text-anchor="start" fill="#ff1a1a" font-weight="bold"  textLength="73" lengthAdjust="spacingAndGlyphs" stroke="#ff1a1a" stroke-width="0.2">2.5% LATP/C-LNMO</text>
<circle cx="358.4" cy="362" r="1.5" fill="#1e64e6"/>
<text x="369.3" y="365.2" font-size="8.8" text-anchor="start" fill="#2020ff" font-weight="bold"  textLength="67" lengthAdjust="spacingAndGlyphs" stroke="#2020ff" stroke-width="0.2">5% LATP/C-LNMO</text>
<circle cx="358.4" cy="372.4" r="1.5" fill="#ff10ff"/>
<text x="369.3" y="375.6" font-size="8.8" text-anchor="start" fill="#ff10ff" font-weight="bold"  textLength="67" lengthAdjust="spacingAndGlyphs" stroke="#ff10ff" stroke-width="0.2">7% LATP/C-LNMO</text>
</svg></body></html>
